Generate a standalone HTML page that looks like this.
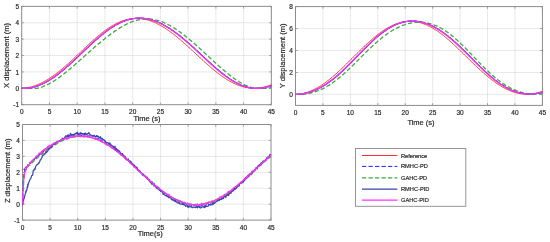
<!DOCTYPE html><html><head><meta charset="utf-8"><style>html,body{margin:0;padding:0;background:#fff;width:550px;height:242px;overflow:hidden}svg text{stroke:#262626;stroke-width:0.18px}</style></head><body><svg width="550" height="242" viewBox="0 0 550 242" style="display:block">
<rect width="550" height="242" fill="#fff"/>
<g>
<path d="M49.44,6.35V104.70M77.18,6.35V104.70M104.92,6.35V104.70M132.66,6.35V104.70M160.39,6.35V104.70M188.13,6.35V104.70M215.87,6.35V104.70M243.61,6.35V104.70M21.70,88.31H271.35M21.70,71.92H271.35M21.70,55.52H271.35M21.70,39.13H271.35M21.70,22.74H271.35" stroke="#c6c6c6" stroke-width="0.8" stroke-dasharray="1 1" fill="none"/>
<rect x="21.70" y="6.35" width="249.65" height="98.35" fill="none" stroke="#8c8c8c" stroke-width="1"/>
<path d="M21.70,104.70v-2.2M21.70,6.35v2.2M49.44,104.70v-2.2M49.44,6.35v2.2M77.18,104.70v-2.2M77.18,6.35v2.2M104.92,104.70v-2.2M104.92,6.35v2.2M132.66,104.70v-2.2M132.66,6.35v2.2M160.39,104.70v-2.2M160.39,6.35v2.2M188.13,104.70v-2.2M188.13,6.35v2.2M215.87,104.70v-2.2M215.87,6.35v2.2M243.61,104.70v-2.2M243.61,6.35v2.2M271.35,104.70v-2.2M271.35,6.35v2.2M21.70,104.70h2.2M271.35,104.70h-2.2M21.70,88.31h2.2M271.35,88.31h-2.2M21.70,71.92h2.2M271.35,71.92h-2.2M21.70,55.52h2.2M271.35,55.52h-2.2M21.70,39.13h2.2M271.35,39.13h-2.2M21.70,22.74h2.2M271.35,22.74h-2.2M21.70,6.35h2.2M271.35,6.35h-2.2" stroke="#8c8c8c" stroke-width="0.8" fill="none"/>
<g fill="none" stroke-linejoin="round">
<path d="M21.7,88.3L22.4,88.3L23.1,88.2L23.8,88.2L24.5,88.1L25.2,88.0L25.9,87.9L26.6,87.8L27.3,87.7L28.0,87.6L28.7,87.4L29.3,87.3L30.0,87.1L30.7,87.0L31.4,86.8L32.1,86.6L32.8,86.4L33.5,86.2L34.2,85.9L34.9,85.7L35.6,85.4L36.3,85.2L37.0,84.9L37.7,84.6L38.4,84.3L39.1,84.0L39.8,83.7L40.5,83.4L41.2,83.1L41.9,82.7L42.6,82.4L43.3,82.0L44.0,81.6L44.6,81.3L45.3,80.9L46.0,80.5L46.7,80.1L47.4,79.6L48.1,79.2L48.8,78.8L49.5,78.3L50.2,77.9L50.9,77.4L51.6,76.9L52.3,76.5L53.0,76.0L53.7,75.5L54.4,75.0L55.1,74.5L55.8,73.9L56.5,73.4L57.2,72.9L57.9,72.3L58.6,71.8L59.3,71.2L59.9,70.7L60.6,70.1L61.3,69.5L62.0,69.0L62.7,68.4L63.4,67.8L64.1,67.2L64.8,66.6L65.5,66.0L66.2,65.4L66.9,64.8L67.6,64.1L68.3,63.5L69.0,62.9L69.7,62.3L70.4,61.6L71.1,61.0L71.8,60.3L72.5,59.7L73.2,59.1L73.9,58.4L74.6,57.8L75.2,57.1L75.9,56.4L76.6,55.8L77.3,55.1L78.0,54.5L78.7,53.8L79.4,53.1L80.1,52.5L80.8,51.8L81.5,51.2L82.2,50.5L82.9,49.8L83.6,49.2L84.3,48.5L85.0,47.9L85.7,47.2L86.4,46.6L87.1,45.9L87.8,45.3L88.5,44.6L89.2,44.0L89.8,43.3L90.5,42.7L91.2,42.0L91.9,41.4L92.6,40.8L93.3,40.2L94.0,39.6L94.7,38.9L95.4,38.3L96.1,37.7L96.8,37.1L97.5,36.6L98.2,36.0L98.9,35.4L99.6,34.8L100.3,34.3L101.0,33.7L101.7,33.1L102.4,32.6L103.1,32.1L103.8,31.5L104.5,31.0L105.1,30.5L105.8,30.0L106.5,29.5L107.2,29.0L107.9,28.5L108.6,28.1L109.3,27.6L110.0,27.2L110.7,26.7L111.4,26.3L112.1,25.9L112.8,25.5L113.5,25.1L114.2,24.7L114.9,24.3L115.6,23.9L116.3,23.6L117.0,23.2L117.7,22.9L118.4,22.6L119.1,22.3L119.8,22.0L120.4,21.7L121.1,21.4L121.8,21.2L122.5,20.9L123.2,20.7L123.9,20.4L124.6,20.2L125.3,20.0L126.0,19.8L126.7,19.6L127.4,19.5L128.1,19.3L128.8,19.2L129.5,19.0L130.2,18.9L130.9,18.8L131.6,18.7L132.3,18.6L133.0,18.6L133.7,18.5L134.4,18.5L135.1,18.4L135.7,18.4L136.4,18.4L137.1,18.4L137.8,18.4L138.5,18.5L139.2,18.5L139.9,18.6L140.6,18.6L141.3,18.7L142.0,18.8L142.7,18.9L143.4,19.0L144.1,19.2L144.8,19.3L145.5,19.5L146.2,19.6L146.9,19.8L147.6,20.0L148.3,20.2L149.0,20.4L149.7,20.6L150.3,20.8L151.0,21.1L151.7,21.3L152.4,21.6L153.1,21.9L153.8,22.2L154.5,22.5L155.2,22.8L155.9,23.1L156.6,23.4L157.3,23.8L158.0,24.1L158.7,24.5L159.4,24.9L160.1,25.2L160.8,25.6L161.5,26.0L162.2,26.4L162.9,26.8L163.6,27.3L164.3,27.7L165.0,28.1L165.6,28.6L166.3,29.1L167.0,29.5L167.7,30.0L168.4,30.5L169.1,31.0L169.8,31.5L170.5,32.0L171.2,32.5L171.9,33.0L172.6,33.5L173.3,34.1L174.0,34.6L174.7,35.2L175.4,35.7L176.1,36.3L176.8,36.8L177.5,37.4L178.2,38.0L178.9,38.6L179.6,39.1L180.3,39.7L180.9,40.3L181.6,40.9L182.3,41.5L183.0,42.2L183.7,42.8L184.4,43.4L185.1,44.0L185.8,44.6L186.5,45.2L187.2,45.9L187.9,46.5L188.6,47.1L189.3,47.8L190.0,48.4L190.7,49.1L191.4,49.7L192.1,50.3L192.8,51.0L193.5,51.6L194.2,52.3L194.9,52.9L195.6,53.6L196.2,54.2L196.9,54.9L197.6,55.5L198.3,56.2L199.0,56.8L199.7,57.4L200.4,58.1L201.1,58.7L201.8,59.4L202.5,60.0L203.2,60.6L203.9,61.3L204.6,61.9L205.3,62.5L206.0,63.2L206.7,63.8L207.4,64.4L208.1,65.0L208.8,65.6L209.5,66.2L210.2,66.8L210.8,67.4L211.5,68.0L212.2,68.6L212.9,69.2L213.6,69.8L214.3,70.3L215.0,70.9L215.7,71.5L216.4,72.0L217.1,72.6L217.8,73.1L218.5,73.6L219.2,74.2L219.9,74.7L220.6,75.2L221.3,75.7L222.0,76.2L222.7,76.7L223.4,77.1L224.1,77.6L224.8,78.1L225.5,78.5L226.1,79.0L226.8,79.4L227.5,79.8L228.2,80.3L228.9,80.7L229.6,81.1L230.3,81.5L231.0,81.8L231.7,82.2L232.4,82.6L233.1,82.9L233.8,83.3L234.5,83.6L235.2,83.9L235.9,84.2L236.6,84.5L237.3,84.8L238.0,85.1L238.7,85.3L239.4,85.6L240.1,85.8L240.8,86.1L241.4,86.3L242.1,86.5L242.8,86.7L243.5,86.9L244.2,87.0L244.9,87.2L245.6,87.4L246.3,87.5L247.0,87.6L247.7,87.7L248.4,87.8L249.1,87.9L249.8,88.0L250.5,88.1L251.2,88.1L251.9,88.2L252.6,88.2L253.3,88.2L254.0,88.3L254.7,88.3L255.4,88.2L256.1,88.2L256.7,88.2L257.4,88.1L258.1,88.1L258.8,88.0L259.5,87.9L260.2,87.8L260.9,87.7L261.6,87.6L262.3,87.5L263.0,87.3L263.7,87.2L264.4,87.0L265.1,86.8L265.8,86.6L266.5,86.4L267.2,86.2L267.9,86.0L268.6,85.8L269.3,85.5L270.0,85.3L270.7,85.0L271.4,84.7" stroke="#ff2020" stroke-width="0.95"/>
<path d="M21.7,88.3L22.4,88.3L23.1,88.3L23.8,88.3L24.5,88.3L25.2,88.3L25.9,88.3L26.6,88.3L27.3,88.2L28.0,88.2L28.7,88.1L29.3,88.0L30.0,87.9L30.7,87.8L31.4,87.7L32.1,87.5L32.8,87.4L33.5,87.2L34.2,87.0L34.9,86.8L35.6,86.6L36.3,86.4L37.0,86.2L37.7,86.0L38.4,85.7L39.1,85.5L39.8,85.2L40.5,84.9L41.2,84.6L41.9,84.3L42.6,84.0L43.3,83.6L44.0,83.3L44.6,83.0L45.3,82.6L46.0,82.2L46.7,81.8L47.4,81.4L48.1,81.0L48.8,80.6L49.5,80.2L50.2,79.8L50.9,79.3L51.6,78.9L52.3,78.4L53.0,78.0L53.7,77.5L54.4,77.0L55.1,76.5L55.8,76.0L56.5,75.5L57.2,75.0L57.9,74.5L58.6,73.9L59.3,73.4L59.9,72.8L60.6,72.3L61.3,71.7L62.0,71.2L62.7,70.6L63.4,70.0L64.1,69.4L64.8,68.8L65.5,68.3L66.2,67.7L66.9,67.0L67.6,66.4L68.3,65.8L69.0,65.2L69.7,64.6L70.4,64.0L71.1,63.3L71.8,62.7L72.5,62.0L73.2,61.4L73.9,60.8L74.6,60.1L75.2,59.5L75.9,58.8L76.6,58.2L77.3,57.5L78.0,56.8L78.7,56.2L79.4,55.5L80.1,54.9L80.8,54.2L81.5,53.5L82.2,52.9L82.9,52.2L83.6,51.6L84.3,50.9L85.0,50.2L85.7,49.6L86.4,48.9L87.1,48.3L87.8,47.6L88.5,46.9L89.2,46.3L89.8,45.6L90.5,45.0L91.2,44.4L91.9,43.7L92.6,43.1L93.3,42.4L94.0,41.8L94.7,41.2L95.4,40.6L96.1,39.9L96.8,39.3L97.5,38.7L98.2,38.1L98.9,37.5L99.6,36.9L100.3,36.3L101.0,35.8L101.7,35.2L102.4,34.6L103.1,34.1L103.8,33.5L104.5,33.0L105.1,32.4L105.8,31.9L106.5,31.4L107.2,30.8L107.9,30.3L108.6,29.8L109.3,29.3L110.0,28.9L110.7,28.4L111.4,27.9L112.1,27.5L112.8,27.0L113.5,26.6L114.2,26.2L114.9,25.7L115.6,25.3L116.3,24.9L117.0,24.5L117.7,24.2L118.4,23.8L119.1,23.4L119.8,23.1L120.4,22.8L121.1,22.4L121.8,22.1L122.5,21.8L123.2,21.5L123.9,21.3L124.6,21.0L125.3,20.7L126.0,20.5L126.7,20.3L127.4,20.0L128.1,19.8L128.8,19.6L129.5,19.5L130.2,19.3L130.9,19.1L131.6,19.0L132.3,18.8L133.0,18.7L133.7,18.6L134.4,18.5L135.1,18.4L135.7,18.3L136.4,18.3L137.1,18.2L137.8,18.2L138.5,18.2L139.2,18.1L139.9,18.1L140.6,18.1L141.3,18.2L142.0,18.2L142.7,18.2L143.4,18.3L144.1,18.4L144.8,18.5L145.5,18.5L146.2,18.6L146.9,18.8L147.6,18.9L148.3,19.0L149.0,19.2L149.7,19.3L150.3,19.5L151.0,19.7L151.7,19.9L152.4,20.1L153.1,20.3L153.8,20.5L154.5,20.8L155.2,21.0L155.9,21.3L156.6,21.5L157.3,21.8L158.0,22.1L158.7,22.4L159.4,22.7L160.1,23.0L160.8,23.4L161.5,23.7L162.2,24.1L162.9,24.4L163.6,24.8L164.3,25.2L165.0,25.5L165.6,25.9L166.3,26.3L167.0,26.8L167.7,27.2L168.4,27.6L169.1,28.0L169.8,28.5L170.5,28.9L171.2,29.4L171.9,29.9L172.6,30.3L173.3,30.8L174.0,31.3L174.7,31.8L175.4,32.3L176.1,32.8L176.8,33.3L177.5,33.9L178.2,34.4L178.9,34.9L179.6,35.5L180.3,36.0L180.9,36.6L181.6,37.1L182.3,37.7L183.0,38.3L183.7,38.8L184.4,39.4L185.1,40.0L185.8,40.6L186.5,41.2L187.2,41.8L187.9,42.4L188.6,43.0L189.3,43.6L190.0,44.2L190.7,44.9L191.4,45.5L192.1,46.1L192.8,46.7L193.5,47.4L194.2,48.0L194.9,48.6L195.6,49.3L196.2,49.9L196.9,50.6L197.6,51.2L198.3,51.9L199.0,52.5L199.7,53.1L200.4,53.8L201.1,54.4L201.8,55.1L202.5,55.7L203.2,56.4L203.9,57.0L204.6,57.7L205.3,58.3L206.0,59.0L206.7,59.6L207.4,60.3L208.1,60.9L208.8,61.5L209.5,62.2L210.2,62.8L210.8,63.4L211.5,64.1L212.2,64.7L212.9,65.3L213.6,65.9L214.3,66.6L215.0,67.2L215.7,67.8L216.4,68.4L217.1,69.0L217.8,69.6L218.5,70.2L219.2,70.7L219.9,71.3L220.6,71.9L221.3,72.5L222.0,73.0L222.7,73.6L223.4,74.1L224.1,74.6L224.8,75.2L225.5,75.7L226.1,76.2L226.8,76.7L227.5,77.2L228.2,77.7L228.9,78.2L229.6,78.6L230.3,79.1L231.0,79.6L231.7,80.0L232.4,80.4L233.1,80.9L233.8,81.3L234.5,81.7L235.2,82.1L235.9,82.5L236.6,82.8L237.3,83.2L238.0,83.5L238.7,83.9L239.4,84.2L240.1,84.5L240.8,84.8L241.4,85.1L242.1,85.4L242.8,85.7L243.5,85.9L244.2,86.2L244.9,86.4L245.6,86.6L246.3,86.8L247.0,87.0L247.7,87.2L248.4,87.4L249.1,87.5L249.8,87.7L250.5,87.8L251.2,87.9L251.9,88.0L252.6,88.1L253.3,88.2L254.0,88.3L254.7,88.3L255.4,88.3L256.1,88.3L256.7,88.3L257.4,88.3L258.1,88.3L258.8,88.3L259.5,88.3L260.2,88.3L260.9,88.2L261.6,88.1L262.3,88.0L263.0,87.9L263.7,87.8L264.4,87.7L265.1,87.5L265.8,87.4L266.5,87.2L267.2,87.0L267.9,86.8L268.6,86.6L269.3,86.4L270.0,86.2L270.7,86.0L271.4,85.7" stroke="#2020ff" stroke-width="1" stroke-dasharray="4.3 2.2"/>
<path d="M21.7,88.3L22.4,88.3L23.1,88.3L23.8,88.3L24.5,88.3L25.2,88.3L25.9,88.3L26.6,88.3L27.3,88.3L28.0,88.3L28.7,88.3L29.3,88.3L30.0,88.3L30.7,88.3L31.4,88.3L32.1,88.3L32.8,88.3L33.5,88.3L34.2,88.3L34.9,88.3L35.6,88.3L36.3,88.3L37.0,88.3L37.7,88.2L38.4,88.1L39.1,87.9L39.8,87.7L40.5,87.5L41.2,87.3L41.9,87.0L42.6,86.8L43.3,86.5L44.0,86.2L44.6,85.9L45.3,85.6L46.0,85.3L46.7,85.0L47.4,84.7L48.1,84.3L48.8,84.0L49.5,83.6L50.2,83.2L50.9,82.8L51.6,82.4L52.3,82.0L53.0,81.6L53.7,81.1L54.4,80.7L55.1,80.3L55.8,79.8L56.5,79.3L57.2,78.9L57.9,78.4L58.6,77.9L59.3,77.4L59.9,76.9L60.6,76.4L61.3,75.8L62.0,75.3L62.7,74.8L63.4,74.2L64.1,73.7L64.8,73.1L65.5,72.6L66.2,72.0L66.9,71.5L67.6,70.9L68.3,70.3L69.0,69.7L69.7,69.1L70.4,68.6L71.1,68.0L71.8,67.4L72.5,66.8L73.2,66.2L73.9,65.6L74.6,65.0L75.2,64.4L75.9,63.7L76.6,63.1L77.3,62.5L78.0,61.9L78.7,61.3L79.4,60.7L80.1,60.1L80.8,59.4L81.5,58.8L82.2,58.2L82.9,57.6L83.6,57.0L84.3,56.3L85.0,55.7L85.7,55.1L86.4,54.5L87.1,53.8L87.8,53.2L88.5,52.6L89.2,52.0L89.8,51.4L90.5,50.8L91.2,50.2L91.9,49.5L92.6,48.9L93.3,48.3L94.0,47.7L94.7,47.1L95.4,46.5L96.1,45.9L96.8,45.3L97.5,44.7L98.2,44.1L98.9,43.5L99.6,42.9L100.3,42.4L101.0,41.8L101.7,41.2L102.4,40.6L103.1,40.1L103.8,39.5L104.5,38.9L105.1,38.4L105.8,37.8L106.5,37.3L107.2,36.7L107.9,36.2L108.6,35.7L109.3,35.1L110.0,34.6L110.7,34.1L111.4,33.6L112.1,33.1L112.8,32.6L113.5,32.1L114.2,31.6L114.9,31.1L115.6,30.6L116.3,30.2L117.0,29.7L117.7,29.2L118.4,28.8L119.1,28.4L119.8,27.9L120.4,27.5L121.1,27.1L121.8,26.7L122.5,26.3L123.2,25.9L123.9,25.5L124.6,25.1L125.3,24.8L126.0,24.4L126.7,24.1L127.4,23.7L128.1,23.4L128.8,23.1L129.5,22.8L130.2,22.5L130.9,22.2L131.6,22.0L132.3,21.7L133.0,21.4L133.7,21.2L134.4,21.0L135.1,20.8L135.7,20.6L136.4,20.4L137.1,20.2L137.8,20.0L138.5,19.9L139.2,19.7L139.9,19.6L140.6,19.5L141.3,19.4L142.0,19.3L142.7,19.2L143.4,19.1L144.1,19.0L144.8,19.0L145.5,19.0L146.2,18.9L146.9,18.9L147.6,18.9L148.3,19.0L149.0,19.0L149.7,19.0L150.3,19.1L151.0,19.2L151.7,19.2L152.4,19.3L153.1,19.4L153.8,19.6L154.5,19.7L155.2,19.8L155.9,20.0L156.6,20.2L157.3,20.3L158.0,20.5L158.7,20.7L159.4,21.0L160.1,21.2L160.8,21.4L161.5,21.7L162.2,21.9L162.9,22.2L163.6,22.5L164.3,22.8L165.0,23.1L165.6,23.4L166.3,23.7L167.0,24.1L167.7,24.4L168.4,24.8L169.1,25.2L169.8,25.5L170.5,25.9L171.2,26.3L171.9,26.7L172.6,27.1L173.3,27.6L174.0,28.0L174.7,28.4L175.4,28.9L176.1,29.3L176.8,29.8L177.5,30.3L178.2,30.8L178.9,31.2L179.6,31.7L180.3,32.2L180.9,32.7L181.6,33.3L182.3,33.8L183.0,34.3L183.7,34.8L184.4,35.4L185.1,35.9L185.8,36.5L186.5,37.0L187.2,37.6L187.9,38.2L188.6,38.7L189.3,39.3L190.0,39.9L190.7,40.5L191.4,41.1L192.1,41.7L192.8,42.3L193.5,42.9L194.2,43.5L194.9,44.1L195.6,44.7L196.2,45.3L196.9,45.9L197.6,46.5L198.3,47.2L199.0,47.8L199.7,48.4L200.4,49.1L201.1,49.7L201.8,50.3L202.5,51.0L203.2,51.6L203.9,52.2L204.6,52.9L205.3,53.5L206.0,54.2L206.7,54.8L207.4,55.4L208.1,56.1L208.8,56.7L209.5,57.4L210.2,58.0L210.8,58.7L211.5,59.3L212.2,60.0L212.9,60.6L213.6,61.2L214.3,61.9L215.0,62.5L215.7,63.1L216.4,63.8L217.1,64.4L217.8,65.0L218.5,65.7L219.2,66.3L219.9,66.9L220.6,67.5L221.3,68.1L222.0,68.7L222.7,69.3L223.4,69.9L224.1,70.5L224.8,71.1L225.5,71.7L226.1,72.3L226.8,72.9L227.5,73.4L228.2,74.0L228.9,74.6L229.6,75.1L230.3,75.6L231.0,76.2L231.7,76.7L232.4,77.2L233.1,77.7L233.8,78.2L234.5,78.7L235.2,79.2L235.9,79.7L236.6,80.2L237.3,80.6L238.0,81.1L238.7,81.5L239.4,82.0L240.1,82.4L240.8,82.8L241.4,83.2L242.1,83.6L242.8,83.9L243.5,84.3L244.2,84.6L244.9,85.0L245.6,85.3L246.3,85.6L247.0,85.9L247.7,86.2L248.4,86.5L249.1,86.7L249.8,87.0L250.5,87.2L251.2,87.4L251.9,87.7L252.6,87.8L253.3,88.0L254.0,88.2L254.7,88.3L255.4,88.3L256.1,88.3L256.7,88.3L257.4,88.3L258.1,88.3L258.8,88.3L259.5,88.3L260.2,88.3L260.9,88.3L261.6,88.3L262.3,88.3L263.0,88.3L263.7,88.3L264.4,88.3L265.1,88.3L265.8,88.3L266.5,88.3L267.2,88.3L267.9,88.3L268.6,88.2L269.3,88.1L270.0,87.9L270.7,87.7L271.4,87.5" stroke="#42a642" stroke-width="1.3" stroke-dasharray="4.3 2.2"/>
<path d="M21.7,88.3L22.4,88.3L23.1,88.3L23.8,88.3L24.5,88.3L25.2,88.3L25.9,88.3L26.6,88.3L27.3,88.2L28.0,88.2L28.7,88.1L29.3,88.0L30.0,87.9L30.7,87.8L31.4,87.6L32.1,87.5L32.8,87.3L33.5,87.2L34.2,87.0L34.9,86.8L35.6,86.6L36.3,86.4L37.0,86.1L37.7,85.9L38.4,85.7L39.1,85.4L39.8,85.1L40.5,84.8L41.2,84.5L41.9,84.2L42.6,83.9L43.3,83.6L44.0,83.2L44.6,82.9L45.3,82.5L46.0,82.1L46.7,81.7L47.4,81.4L48.1,80.9L48.8,80.5L49.5,80.1L50.2,79.7L50.9,79.2L51.6,78.8L52.3,78.3L53.0,77.9L53.7,77.4L54.4,76.9L55.1,76.4L55.8,75.9L56.5,75.4L57.2,74.9L57.9,74.3L58.6,73.8L59.3,73.3L59.9,72.7L60.6,72.2L61.3,71.6L62.0,71.0L62.7,70.5L63.4,69.9L64.1,69.3L64.8,68.7L65.5,68.1L66.2,67.5L66.9,66.9L67.6,66.3L68.3,65.7L69.0,65.1L69.7,64.4L70.4,63.8L71.1,63.2L71.8,62.5L72.5,61.9L73.2,61.3L73.9,60.6L74.6,60.0L75.2,59.3L75.9,58.7L76.6,58.0L77.3,57.3L78.0,56.7L78.7,56.0L79.4,55.4L80.1,54.7L80.8,54.0L81.5,53.4L82.2,52.7L82.9,52.1L83.6,51.4L84.3,50.7L85.0,50.1L85.7,49.4L86.4,48.8L87.1,48.1L87.8,47.4L88.5,46.8L89.2,46.1L89.8,45.5L90.5,44.8L91.2,44.2L91.9,43.6L92.6,42.9L93.3,42.3L94.0,41.7L94.7,41.0L95.4,40.4L96.1,39.8L96.8,39.2L97.5,38.6L98.2,38.0L98.9,37.4L99.6,36.8L100.3,36.2L101.0,35.6L101.7,35.1L102.4,34.5L103.1,33.9L103.8,33.4L104.5,32.8L105.1,32.3L105.8,31.8L106.5,31.2L107.2,30.7L107.9,30.2L108.6,29.7L109.3,29.2L110.0,28.7L110.7,28.3L111.4,27.8L112.1,27.4L112.8,26.9L113.5,26.5L114.2,26.1L114.9,25.6L115.6,25.2L116.3,24.8L117.0,24.5L117.7,24.1L118.4,23.7L119.1,23.4L119.8,23.0L120.4,22.7L121.1,22.4L121.8,22.1L122.5,21.8L123.2,21.5L123.9,21.2L124.6,20.9L125.3,20.7L126.0,20.4L126.7,20.2L127.4,20.0L128.1,19.8L128.8,19.6L129.5,19.4L130.2,19.2L130.9,19.1L131.6,18.9L132.3,18.8L133.0,18.7L133.7,18.6L134.4,18.5L135.1,18.4L135.7,18.3L136.4,18.3L137.1,18.2L137.8,18.2L138.5,18.2L139.2,18.1L139.9,18.1L140.6,18.2L141.3,18.2L142.0,18.2L142.7,18.3L143.4,18.3L144.1,18.4L144.8,18.5L145.5,18.6L146.2,18.7L146.9,18.8L147.6,18.9L148.3,19.1L149.0,19.2L149.7,19.4L150.3,19.6L151.0,19.7L151.7,19.9L152.4,20.1L153.1,20.4L153.8,20.6L154.5,20.8L155.2,21.1L155.9,21.3L156.6,21.6L157.3,21.9L158.0,22.2L158.7,22.5L159.4,22.8L160.1,23.1L160.8,23.5L161.5,23.8L162.2,24.1L162.9,24.5L163.6,24.9L164.3,25.3L165.0,25.6L165.6,26.0L166.3,26.4L167.0,26.9L167.7,27.3L168.4,27.7L169.1,28.1L169.8,28.6L170.5,29.0L171.2,29.5L171.9,30.0L172.6,30.4L173.3,30.9L174.0,31.4L174.7,31.9L175.4,32.4L176.1,32.9L176.8,33.5L177.5,34.0L178.2,34.5L178.9,35.1L179.6,35.6L180.3,36.1L180.9,36.7L181.6,37.3L182.3,37.8L183.0,38.4L183.7,39.0L184.4,39.6L185.1,40.2L185.8,40.7L186.5,41.3L187.2,41.9L187.9,42.6L188.6,43.2L189.3,43.8L190.0,44.4L190.7,45.0L191.4,45.6L192.1,46.3L192.8,46.9L193.5,47.5L194.2,48.2L194.9,48.8L195.6,49.4L196.2,50.1L196.9,50.7L197.6,51.4L198.3,52.0L199.0,52.7L199.7,53.3L200.4,53.9L201.1,54.6L201.8,55.2L202.5,55.9L203.2,56.5L203.9,57.2L204.6,57.8L205.3,58.5L206.0,59.1L206.7,59.8L207.4,60.4L208.1,61.1L208.8,61.7L209.5,62.3L210.2,63.0L210.8,63.6L211.5,64.2L212.2,64.9L212.9,65.5L213.6,66.1L214.3,66.7L215.0,67.3L215.7,67.9L216.4,68.5L217.1,69.1L217.8,69.7L218.5,70.3L219.2,70.9L219.9,71.5L220.6,72.0L221.3,72.6L222.0,73.1L222.7,73.7L223.4,74.2L224.1,74.8L224.8,75.3L225.5,75.8L226.1,76.3L226.8,76.8L227.5,77.3L228.2,77.8L228.9,78.3L229.6,78.8L230.3,79.2L231.0,79.7L231.7,80.1L232.4,80.5L233.1,81.0L233.8,81.4L234.5,81.8L235.2,82.2L235.9,82.5L236.6,82.9L237.3,83.3L238.0,83.6L238.7,84.0L239.4,84.3L240.1,84.6L240.8,84.9L241.4,85.2L242.1,85.5L242.8,85.7L243.5,86.0L244.2,86.2L244.9,86.4L245.6,86.7L246.3,86.9L247.0,87.1L247.7,87.2L248.4,87.4L249.1,87.6L249.8,87.7L250.5,87.8L251.2,87.9L251.9,88.0L252.6,88.1L253.3,88.2L254.0,88.3L254.7,88.3L255.4,88.3L256.1,88.3L256.7,88.3L257.4,88.3L258.1,88.3L258.8,88.3L259.5,88.3L260.2,88.2L260.9,88.2L261.6,88.1L262.3,88.0L263.0,87.9L263.7,87.8L264.4,87.6L265.1,87.5L265.8,87.3L266.5,87.2L267.2,87.0L267.9,86.8L268.6,86.6L269.3,86.4L270.0,86.1L270.7,85.9L271.4,85.7" stroke="#3646aa" stroke-width="1.2"/>
<path d="M21.7,88.3L22.4,88.3L23.1,88.3L23.8,88.3L24.5,88.3L25.2,88.3L25.9,88.3L26.6,88.3L27.3,88.2L28.0,88.1L28.7,88.0L29.3,87.9L30.0,87.8L30.7,87.7L31.4,87.6L32.1,87.4L32.8,87.2L33.5,87.1L34.2,86.9L34.9,86.7L35.6,86.5L36.3,86.2L37.0,86.0L37.7,85.8L38.4,85.5L39.1,85.2L39.8,85.0L40.5,84.7L41.2,84.4L41.9,84.0L42.6,83.7L43.3,83.4L44.0,83.0L44.6,82.7L45.3,82.3L46.0,81.9L46.7,81.5L47.4,81.1L48.1,80.7L48.8,80.3L49.5,79.9L50.2,79.4L50.9,79.0L51.6,78.5L52.3,78.1L53.0,77.6L53.7,77.1L54.4,76.6L55.1,76.1L55.8,75.6L56.5,75.1L57.2,74.6L57.9,74.0L58.6,73.5L59.3,73.0L59.9,72.4L60.6,71.8L61.3,71.3L62.0,70.7L62.7,70.1L63.4,69.6L64.1,69.0L64.8,68.4L65.5,67.8L66.2,67.2L66.9,66.6L67.6,65.9L68.3,65.3L69.0,64.7L69.7,64.1L70.4,63.4L71.1,62.8L71.8,62.2L72.5,61.5L73.2,60.9L73.9,60.2L74.6,59.6L75.2,58.9L75.9,58.3L76.6,57.6L77.3,57.0L78.0,56.3L78.7,55.7L79.4,55.0L80.1,54.3L80.8,53.7L81.5,53.0L82.2,52.4L82.9,51.7L83.6,51.0L84.3,50.4L85.0,49.7L85.7,49.0L86.4,48.4L87.1,47.7L87.8,47.1L88.5,46.4L89.2,45.8L89.8,45.1L90.5,44.5L91.2,43.8L91.9,43.2L92.6,42.6L93.3,41.9L94.0,41.3L94.7,40.7L95.4,40.1L96.1,39.5L96.8,38.8L97.5,38.2L98.2,37.6L98.9,37.0L99.6,36.5L100.3,35.9L101.0,35.3L101.7,34.7L102.4,34.2L103.1,33.6L103.8,33.1L104.5,32.5L105.1,32.0L105.8,31.5L106.5,30.9L107.2,30.4L107.9,29.9L108.6,29.4L109.3,29.0L110.0,28.5L110.7,28.0L111.4,27.6L112.1,27.1L112.8,26.7L113.5,26.2L114.2,25.8L114.9,25.4L115.6,25.0L116.3,24.6L117.0,24.2L117.7,23.9L118.4,23.5L119.1,23.2L119.8,22.8L120.4,22.5L121.1,22.2L121.8,21.9L122.5,21.6L123.2,21.3L123.9,21.0L124.6,20.8L125.3,20.5L126.0,20.3L126.7,20.1L127.4,19.9L128.1,19.7L128.8,19.5L129.5,19.3L130.2,19.2L130.9,19.0L131.6,18.9L132.3,18.7L133.0,18.6L133.7,18.5L134.4,18.4L135.1,18.4L135.7,18.3L136.4,18.2L137.1,18.2L137.8,18.2L138.5,18.1L139.2,18.1L139.9,18.1L140.6,18.2L141.3,18.2L142.0,18.2L142.7,18.3L143.4,18.4L144.1,18.4L144.8,18.5L145.5,18.6L146.2,18.7L146.9,18.9L147.6,19.0L148.3,19.1L149.0,19.3L149.7,19.5L150.3,19.7L151.0,19.8L151.7,20.1L152.4,20.3L153.1,20.5L153.8,20.7L154.5,21.0L155.2,21.2L155.9,21.5L156.6,21.8L157.3,22.1L158.0,22.4L158.7,22.7L159.4,23.0L160.1,23.3L160.8,23.6L161.5,24.0L162.2,24.3L162.9,24.7L163.6,25.1L164.3,25.5L165.0,25.9L165.6,26.3L166.3,26.7L167.0,27.1L167.7,27.5L168.4,27.9L169.1,28.4L169.8,28.8L170.5,29.3L171.2,29.8L171.9,30.2L172.6,30.7L173.3,31.2L174.0,31.7L174.7,32.2L175.4,32.7L176.1,33.2L176.8,33.8L177.5,34.3L178.2,34.8L178.9,35.4L179.6,35.9L180.3,36.5L180.9,37.0L181.6,37.6L182.3,38.2L183.0,38.7L183.7,39.3L184.4,39.9L185.1,40.5L185.8,41.1L186.5,41.7L187.2,42.3L187.9,42.9L188.6,43.5L189.3,44.1L190.0,44.7L190.7,45.4L191.4,46.0L192.1,46.6L192.8,47.2L193.5,47.9L194.2,48.5L194.9,49.1L195.6,49.8L196.2,50.4L196.9,51.1L197.6,51.7L198.3,52.4L199.0,53.0L199.7,53.7L200.4,54.3L201.1,55.0L201.8,55.6L202.5,56.3L203.2,56.9L203.9,57.6L204.6,58.2L205.3,58.8L206.0,59.5L206.7,60.1L207.4,60.8L208.1,61.4L208.8,62.1L209.5,62.7L210.2,63.3L210.8,64.0L211.5,64.6L212.2,65.2L212.9,65.8L213.6,66.4L214.3,67.1L215.0,67.7L215.7,68.3L216.4,68.9L217.1,69.5L217.8,70.0L218.5,70.6L219.2,71.2L219.9,71.8L220.6,72.3L221.3,72.9L222.0,73.4L222.7,74.0L223.4,74.5L224.1,75.1L224.8,75.6L225.5,76.1L226.1,76.6L226.8,77.1L227.5,77.6L228.2,78.1L228.9,78.5L229.6,79.0L230.3,79.5L231.0,79.9L231.7,80.3L232.4,80.8L233.1,81.2L233.8,81.6L234.5,82.0L235.2,82.4L235.9,82.7L236.6,83.1L237.3,83.5L238.0,83.8L238.7,84.1L239.4,84.5L240.1,84.8L240.8,85.1L241.4,85.3L242.1,85.6L242.8,85.9L243.5,86.1L244.2,86.3L244.9,86.6L245.6,86.8L246.3,87.0L247.0,87.2L247.7,87.3L248.4,87.5L249.1,87.6L249.8,87.8L250.5,87.9L251.2,88.0L251.9,88.1L252.6,88.2L253.3,88.2L254.0,88.3L254.7,88.3L255.4,88.3L256.1,88.3L256.7,88.3L257.4,88.3L258.1,88.3L258.8,88.3L259.5,88.3L260.2,88.2L260.9,88.1L261.6,88.0L262.3,87.9L263.0,87.8L263.7,87.7L264.4,87.6L265.1,87.4L265.8,87.3L266.5,87.1L267.2,86.9L267.9,86.7L268.6,86.5L269.3,86.3L270.0,86.0L270.7,85.8L271.4,85.5" stroke="#ff30ff" stroke-width="1.2"/>
</g>
<g font-family="Liberation Sans, Arial, sans-serif" font-size="6.5" fill="#262626" text-anchor="middle">
<text x="21.70" y="114.10">0</text>
<text x="49.44" y="114.10">5</text>
<text x="77.18" y="114.10">10</text>
<text x="104.92" y="114.10">15</text>
<text x="132.66" y="114.10">20</text>
<text x="160.39" y="114.10">25</text>
<text x="188.13" y="114.10">30</text>
<text x="215.87" y="114.10">35</text>
<text x="243.61" y="114.10">40</text>
<text x="271.35" y="114.10">45</text>
</g><g font-family="Liberation Sans, Arial, sans-serif" font-size="6.5" fill="#262626" text-anchor="end">
<text x="19.10" y="107.30">-1</text>
<text x="19.10" y="90.91">0</text>
<text x="19.10" y="74.52">1</text>
<text x="19.10" y="58.12">2</text>
<text x="19.10" y="41.73">3</text>
<text x="19.10" y="25.34">4</text>
<text x="19.10" y="8.95">5</text>
</g>
<text x="147.00" y="120.60" text-anchor="middle" font-size="7.5" fill="#262626" font-family="Liberation Sans, Arial, sans-serif">Time (s)</text>
<text transform="translate(9.00,55.45) rotate(-90)" text-anchor="middle" font-size="7.55" fill="#262626" font-family="Liberation Sans, Arial, sans-serif">X displacement (m)</text>
</g>
<g>
<path d="M322.93,6.60V105.40M350.37,6.60V105.40M377.80,6.60V105.40M405.23,6.60V105.40M432.67,6.60V105.40M460.10,6.60V105.40M487.53,6.60V105.40M514.97,6.60V105.40M295.50,94.42H542.40M295.50,72.47H542.40M295.50,50.51H542.40M295.50,28.56H542.40" stroke="#c6c6c6" stroke-width="0.8" stroke-dasharray="1 1" fill="none"/>
<rect x="295.50" y="6.60" width="246.90" height="98.80" fill="none" stroke="#8c8c8c" stroke-width="1"/>
<path d="M295.50,105.40v-2.2M295.50,6.60v2.2M322.93,105.40v-2.2M322.93,6.60v2.2M350.37,105.40v-2.2M350.37,6.60v2.2M377.80,105.40v-2.2M377.80,6.60v2.2M405.23,105.40v-2.2M405.23,6.60v2.2M432.67,105.40v-2.2M432.67,6.60v2.2M460.10,105.40v-2.2M460.10,6.60v2.2M487.53,105.40v-2.2M487.53,6.60v2.2M514.97,105.40v-2.2M514.97,6.60v2.2M542.40,105.40v-2.2M542.40,6.60v2.2M295.50,94.42h2.2M542.40,94.42h-2.2M295.50,72.47h2.2M542.40,72.47h-2.2M295.50,50.51h2.2M542.40,50.51h-2.2M295.50,28.56h2.2M542.40,28.56h-2.2M295.50,6.60h2.2M542.40,6.60h-2.2" stroke="#8c8c8c" stroke-width="0.8" fill="none"/>
<g fill="none" stroke-linejoin="round">
<path d="M295.5,94.4L296.2,94.4L296.9,94.3L297.6,94.3L298.3,94.2L298.9,94.1L299.6,94.1L300.3,94.0L301.0,93.8L301.7,93.7L302.4,93.6L303.1,93.4L303.8,93.3L304.4,93.1L305.1,92.9L305.8,92.7L306.5,92.5L307.2,92.3L307.9,92.1L308.6,91.8L309.3,91.6L309.9,91.3L310.6,91.0L311.3,90.7L312.0,90.5L312.7,90.1L313.4,89.8L314.1,89.5L314.8,89.1L315.4,88.8L316.1,88.4L316.8,88.1L317.5,87.7L318.2,87.3L318.9,86.9L319.6,86.4L320.3,86.0L320.9,85.6L321.6,85.1L322.3,84.7L323.0,84.2L323.7,83.7L324.4,83.3L325.1,82.8L325.8,82.3L326.4,81.8L327.1,81.2L327.8,80.7L328.5,80.2L329.2,79.6L329.9,79.1L330.6,78.5L331.3,77.9L332.0,77.4L332.6,76.8L333.3,76.2L334.0,75.6L334.7,75.0L335.4,74.4L336.1,73.8L336.8,73.2L337.5,72.5L338.1,71.9L338.8,71.3L339.5,70.6L340.2,70.0L340.9,69.3L341.6,68.7L342.3,68.0L343.0,67.4L343.6,66.7L344.3,66.0L345.0,65.4L345.7,64.7L346.4,64.0L347.1,63.3L347.8,62.6L348.5,62.0L349.1,61.3L349.8,60.6L350.5,59.9L351.2,59.2L351.9,58.5L352.6,57.8L353.3,57.1L354.0,56.5L354.6,55.8L355.3,55.1L356.0,54.4L356.7,53.7L357.4,53.0L358.1,52.4L358.8,51.7L359.5,51.0L360.1,50.3L360.8,49.7L361.5,49.0L362.2,48.3L362.9,47.7L363.6,47.0L364.3,46.3L365.0,45.7L365.6,45.0L366.3,44.4L367.0,43.8L367.7,43.1L368.4,42.5L369.1,41.9L369.8,41.3L370.5,40.7L371.2,40.1L371.8,39.5L372.5,38.9L373.2,38.3L373.9,37.7L374.6,37.1L375.3,36.6L376.0,36.0L376.7,35.5L377.3,34.9L378.0,34.4L378.7,33.9L379.4,33.4L380.1,32.9L380.8,32.4L381.5,31.9L382.2,31.4L382.8,30.9L383.5,30.5L384.2,30.0L384.9,29.6L385.6,29.2L386.3,28.7L387.0,28.3L387.7,27.9L388.3,27.5L389.0,27.2L389.7,26.8L390.4,26.4L391.1,26.1L391.8,25.8L392.5,25.4L393.2,25.1L393.8,24.8L394.5,24.5L395.2,24.3L395.9,24.0L396.6,23.7L397.3,23.5L398.0,23.3L398.7,23.1L399.3,22.9L400.0,22.7L400.7,22.5L401.4,22.3L402.1,22.2L402.8,22.0L403.5,21.9L404.2,21.8L404.9,21.7L405.5,21.6L406.2,21.5L406.9,21.4L407.6,21.4L408.3,21.3L409.0,21.3L409.7,21.3L410.4,21.3L411.0,21.3L411.7,21.3L412.4,21.4L413.1,21.4L413.8,21.5L414.5,21.6L415.2,21.7L415.9,21.8L416.5,21.9L417.2,22.0L417.9,22.1L418.6,22.3L419.3,22.5L420.0,22.6L420.7,22.8L421.4,23.0L422.0,23.3L422.7,23.5L423.4,23.7L424.1,24.0L424.8,24.3L425.5,24.5L426.2,24.8L426.9,25.1L427.5,25.4L428.2,25.8L428.9,26.1L429.6,26.4L430.3,26.8L431.0,27.2L431.7,27.6L432.4,27.9L433.0,28.3L433.7,28.8L434.4,29.2L435.1,29.6L435.8,30.1L436.5,30.5L437.2,31.0L437.9,31.4L438.6,31.9L439.2,32.4L439.9,32.9L440.6,33.4L441.3,33.9L442.0,34.5L442.7,35.0L443.4,35.5L444.1,36.1L444.7,36.7L445.4,37.2L446.1,37.8L446.8,38.4L447.5,39.0L448.2,39.5L448.9,40.1L449.6,40.7L450.2,41.4L450.9,42.0L451.6,42.6L452.3,43.2L453.0,43.8L453.7,44.5L454.4,45.1L455.1,45.8L455.7,46.4L456.4,47.1L457.1,47.7L457.8,48.4L458.5,49.0L459.2,49.7L459.9,50.4L460.6,51.0L461.2,51.7L461.9,52.4L462.6,53.0L463.3,53.7L464.0,54.4L464.7,55.1L465.4,55.7L466.1,56.4L466.7,57.1L467.4,57.8L468.1,58.4L468.8,59.1L469.5,59.8L470.2,60.5L470.9,61.1L471.6,61.8L472.3,62.5L472.9,63.1L473.6,63.8L474.3,64.5L475.0,65.1L475.7,65.8L476.4,66.4L477.1,67.1L477.8,67.7L478.4,68.4L479.1,69.0L479.8,69.6L480.5,70.3L481.2,70.9L481.9,71.5L482.6,72.1L483.3,72.7L483.9,73.3L484.6,73.9L485.3,74.5L486.0,75.1L486.7,75.7L487.4,76.3L488.1,76.8L488.8,77.4L489.4,78.0L490.1,78.5L490.8,79.0L491.5,79.6L492.2,80.1L492.9,80.6L493.6,81.1L494.3,81.6L494.9,82.1L495.6,82.6L496.3,83.1L497.0,83.6L497.7,84.0L498.4,84.5L499.1,84.9L499.8,85.4L500.4,85.8L501.1,86.2L501.8,86.6L502.5,87.0L503.2,87.4L503.9,87.8L504.6,88.1L505.3,88.5L505.9,88.9L506.6,89.2L507.3,89.5L508.0,89.8L508.7,90.2L509.4,90.5L510.1,90.7L510.8,91.0L511.5,91.3L512.1,91.5L512.8,91.8L513.5,92.0L514.2,92.2L514.9,92.4L515.6,92.6L516.3,92.8L517.0,93.0L517.6,93.2L518.3,93.3L519.0,93.5L519.7,93.6L520.4,93.7L521.1,93.8L521.8,93.9L522.5,94.0L523.1,94.1L523.8,94.1L524.5,94.2L525.2,94.2L525.9,94.2L526.6,94.3L527.3,94.3L528.0,94.2L528.6,94.2L529.3,94.2L530.0,94.1L530.7,94.1L531.4,94.0L532.1,93.9L532.8,93.8L533.5,93.7L534.1,93.6L534.8,93.5L535.5,93.3L536.2,93.1L536.9,93.0L537.6,92.8L538.3,92.6L539.0,92.4L539.6,92.2L540.3,92.0L541.0,91.7L541.7,91.5L542.4,91.2" stroke="#ff2020" stroke-width="0.95"/>
<path d="M295.5,94.4L296.2,94.4L296.9,94.4L297.6,94.4L298.3,94.3L298.9,94.3L299.6,94.2L300.3,94.1L301.0,94.1L301.7,94.0L302.4,93.9L303.1,93.8L303.8,93.7L304.4,93.5L305.1,93.4L305.8,93.2L306.5,93.1L307.2,92.9L307.9,92.7L308.6,92.5L309.3,92.3L309.9,92.1L310.6,91.9L311.3,91.7L312.0,91.4L312.7,91.2L313.4,90.9L314.1,90.7L314.8,90.4L315.4,90.1L316.1,89.8L316.8,89.5L317.5,89.2L318.2,88.8L318.9,88.5L319.6,88.1L320.3,87.8L320.9,87.4L321.6,87.0L322.3,86.6L323.0,86.2L323.7,85.8L324.4,85.4L325.1,85.0L325.8,84.5L326.4,84.1L327.1,83.6L327.8,83.2L328.5,82.7L329.2,82.2L329.9,81.7L330.6,81.2L331.3,80.7L332.0,80.2L332.6,79.6L333.3,79.1L334.0,78.6L334.7,78.0L335.4,77.4L336.1,76.9L336.8,76.3L337.5,75.7L338.1,75.1L338.8,74.5L339.5,73.9L340.2,73.3L340.9,72.7L341.6,72.0L342.3,71.4L343.0,70.8L343.6,70.1L344.3,69.5L345.0,68.8L345.7,68.1L346.4,67.5L347.1,66.8L347.8,66.1L348.5,65.4L349.1,64.7L349.8,64.1L350.5,63.4L351.2,62.7L351.9,62.0L352.6,61.3L353.3,60.6L354.0,59.9L354.6,59.2L355.3,58.4L356.0,57.7L356.7,57.0L357.4,56.3L358.1,55.6L358.8,54.9L359.5,54.2L360.1,53.5L360.8,52.8L361.5,52.1L362.2,51.4L362.9,50.7L363.6,50.0L364.3,49.3L365.0,48.6L365.6,47.9L366.3,47.2L367.0,46.5L367.7,45.8L368.4,45.1L369.1,44.5L369.8,43.8L370.5,43.1L371.2,42.5L371.8,41.8L372.5,41.2L373.2,40.6L373.9,39.9L374.6,39.3L375.3,38.7L376.0,38.1L376.7,37.5L377.3,36.9L378.0,36.3L378.7,35.7L379.4,35.2L380.1,34.6L380.8,34.1L381.5,33.5L382.2,33.0L382.8,32.5L383.5,32.0L384.2,31.5L384.9,31.0L385.6,30.5L386.3,30.0L387.0,29.6L387.7,29.1L388.3,28.7L389.0,28.3L389.7,27.9L390.4,27.5L391.1,27.1L391.8,26.7L392.5,26.3L393.2,26.0L393.8,25.6L394.5,25.3L395.2,25.0L395.9,24.7L396.6,24.4L397.3,24.1L398.0,23.8L398.7,23.6L399.3,23.3L400.0,23.1L400.7,22.9L401.4,22.7L402.1,22.5L402.8,22.3L403.5,22.1L404.2,22.0L404.9,21.8L405.5,21.7L406.2,21.6L406.9,21.5L407.6,21.4L408.3,21.3L409.0,21.2L409.7,21.2L410.4,21.1L411.0,21.1L411.7,21.1L412.4,21.1L413.1,21.1L413.8,21.1L414.5,21.1L415.2,21.2L415.9,21.2L416.5,21.3L417.2,21.4L417.9,21.4L418.6,21.5L419.3,21.7L420.0,21.8L420.7,21.9L421.4,22.1L422.0,22.2L422.7,22.4L423.4,22.6L424.1,22.8L424.8,23.0L425.5,23.2L426.2,23.4L426.9,23.7L427.5,23.9L428.2,24.2L428.9,24.4L429.6,24.7L430.3,25.0L431.0,25.3L431.7,25.6L432.4,26.0L433.0,26.3L433.7,26.7L434.4,27.0L435.1,27.4L435.8,27.8L436.5,28.1L437.2,28.5L437.9,29.0L438.6,29.4L439.2,29.8L439.9,30.2L440.6,30.7L441.3,31.1L442.0,31.6L442.7,32.1L443.4,32.6L444.1,33.1L444.7,33.6L445.4,34.1L446.1,34.6L446.8,35.1L447.5,35.6L448.2,36.2L448.9,36.7L449.6,37.3L450.2,37.9L450.9,38.4L451.6,39.0L452.3,39.6L453.0,40.2L453.7,40.8L454.4,41.4L455.1,42.0L455.7,42.6L456.4,43.3L457.1,43.9L457.8,44.5L458.5,45.2L459.2,45.8L459.9,46.5L460.6,47.1L461.2,47.8L461.9,48.4L462.6,49.1L463.3,49.8L464.0,50.5L464.7,51.1L465.4,51.8L466.1,52.5L466.7,53.2L467.4,53.9L468.1,54.6L468.8,55.2L469.5,55.9L470.2,56.6L470.9,57.3L471.6,58.0L472.3,58.7L472.9,59.4L473.6,60.1L474.3,60.8L475.0,61.5L475.7,62.2L476.4,62.8L477.1,63.5L477.8,64.2L478.4,64.9L479.1,65.6L479.8,66.2L480.5,66.9L481.2,67.6L481.9,68.2L482.6,68.9L483.3,69.6L483.9,70.2L484.6,70.8L485.3,71.5L486.0,72.1L486.7,72.8L487.4,73.4L488.1,74.0L488.8,74.6L489.4,75.2L490.1,75.8L490.8,76.4L491.5,77.0L492.2,77.5L492.9,78.1L493.6,78.7L494.3,79.2L494.9,79.8L495.6,80.3L496.3,80.8L497.0,81.3L497.7,81.9L498.4,82.4L499.1,82.8L499.8,83.3L500.4,83.8L501.1,84.3L501.8,84.7L502.5,85.1L503.2,85.6L503.9,86.0L504.6,86.4L505.3,86.8L505.9,87.2L506.6,87.6L507.3,88.0L508.0,88.3L508.7,88.7L509.4,89.0L510.1,89.3L510.8,89.6L511.5,89.9L512.1,90.2L512.8,90.5L513.5,90.8L514.2,91.1L514.9,91.3L515.6,91.5L516.3,91.8L517.0,92.0L517.6,92.2L518.3,92.4L519.0,92.6L519.7,92.7L520.4,92.9L521.1,93.1L521.8,93.2L522.5,93.3L523.1,93.4L523.8,93.5L524.5,93.6L525.2,93.7L525.9,93.8L526.6,93.9L527.3,93.9L528.0,93.9L528.6,94.0L529.3,94.0L530.0,94.0L530.7,94.0L531.4,94.0L532.1,93.9L532.8,93.9L533.5,93.9L534.1,93.8L534.8,93.7L535.5,93.6L536.2,93.5L536.9,93.4L537.6,93.3L538.3,93.2L539.0,93.1L539.6,92.9L540.3,92.8L541.0,92.6L541.7,92.4L542.4,92.2" stroke="#2020ff" stroke-width="1" stroke-dasharray="4.3 2.2"/>
<path d="M295.5,94.4L296.2,94.4L296.9,94.4L297.6,94.4L298.3,94.4L298.9,94.4L299.6,94.4L300.3,94.4L301.0,94.4L301.7,94.4L302.4,94.4L303.1,94.3L303.8,94.2L304.4,94.2L305.1,94.1L305.8,94.0L306.5,93.9L307.2,93.8L307.9,93.7L308.6,93.5L309.3,93.4L309.9,93.2L310.6,93.1L311.3,92.9L312.0,92.7L312.7,92.6L313.4,92.4L314.1,92.2L314.8,91.9L315.4,91.7L316.1,91.5L316.8,91.2L317.5,91.0L318.2,90.7L318.9,90.4L319.6,90.2L320.3,89.9L320.9,89.5L321.6,89.2L322.3,88.9L323.0,88.6L323.7,88.2L324.4,87.9L325.1,87.5L325.8,87.1L326.4,86.7L327.1,86.3L327.8,85.9L328.5,85.5L329.2,85.1L329.9,84.6L330.6,84.2L331.3,83.7L332.0,83.3L332.6,82.8L333.3,82.3L334.0,81.8L334.7,81.3L335.4,80.8L336.1,80.3L336.8,79.7L337.5,79.2L338.1,78.6L338.8,78.1L339.5,77.5L340.2,76.9L340.9,76.4L341.6,75.8L342.3,75.2L343.0,74.6L343.6,74.0L344.3,73.4L345.0,72.7L345.7,72.1L346.4,71.5L347.1,70.8L347.8,70.2L348.5,69.5L349.1,68.9L349.8,68.2L350.5,67.6L351.2,66.9L351.9,66.2L352.6,65.6L353.3,64.9L354.0,64.2L354.6,63.5L355.3,62.8L356.0,62.1L356.7,61.5L357.4,60.8L358.1,60.1L358.8,59.4L359.5,58.7L360.1,58.0L360.8,57.3L361.5,56.6L362.2,55.9L362.9,55.3L363.6,54.6L364.3,53.9L365.0,53.2L365.6,52.5L366.3,51.8L367.0,51.2L367.7,50.5L368.4,49.8L369.1,49.2L369.8,48.5L370.5,47.9L371.2,47.2L371.8,46.6L372.5,45.9L373.2,45.3L373.9,44.6L374.6,44.0L375.3,43.4L376.0,42.8L376.7,42.2L377.3,41.6L378.0,41.0L378.7,40.4L379.4,39.8L380.1,39.3L380.8,38.7L381.5,38.1L382.2,37.6L382.8,37.1L383.5,36.5L384.2,36.0L384.9,35.5L385.6,35.0L386.3,34.5L387.0,34.0L387.7,33.5L388.3,33.0L389.0,32.6L389.7,32.1L390.4,31.7L391.1,31.2L391.8,30.8L392.5,30.4L393.2,30.0L393.8,29.6L394.5,29.2L395.2,28.8L395.9,28.5L396.6,28.1L397.3,27.8L398.0,27.4L398.7,27.1L399.3,26.8L400.0,26.5L400.7,26.2L401.4,25.9L402.1,25.6L402.8,25.3L403.5,25.1L404.2,24.8L404.9,24.6L405.5,24.4L406.2,24.2L406.9,24.0L407.6,23.8L408.3,23.6L409.0,23.4L409.7,23.3L410.4,23.1L411.0,23.0L411.7,22.8L412.4,22.7L413.1,22.6L413.8,22.5L414.5,22.4L415.2,22.4L415.9,22.3L416.5,22.3L417.2,22.2L417.9,22.2L418.6,22.2L419.3,22.2L420.0,22.2L420.7,22.2L421.4,22.2L422.0,22.3L422.7,22.3L423.4,22.4L424.1,22.5L424.8,22.6L425.5,22.7L426.2,22.8L426.9,22.9L427.5,23.0L428.2,23.2L428.9,23.3L429.6,23.5L430.3,23.7L431.0,23.9L431.7,24.1L432.4,24.3L433.0,24.6L433.7,24.8L434.4,25.1L435.1,25.3L435.8,25.6L436.5,25.9L437.2,26.2L437.9,26.6L438.6,26.9L439.2,27.2L439.9,27.6L440.6,28.0L441.3,28.3L442.0,28.7L442.7,29.1L443.4,29.5L444.1,30.0L444.7,30.4L445.4,30.9L446.1,31.3L446.8,31.8L447.5,32.3L448.2,32.8L448.9,33.3L449.6,33.8L450.2,34.3L450.9,34.9L451.6,35.4L452.3,36.0L453.0,36.5L453.7,37.1L454.4,37.7L455.1,38.3L455.7,38.9L456.4,39.5L457.1,40.1L457.8,40.8L458.5,41.4L459.2,42.0L459.9,42.7L460.6,43.3L461.2,44.0L461.9,44.7L462.6,45.3L463.3,46.0L464.0,46.7L464.7,47.4L465.4,48.1L466.1,48.8L466.7,49.5L467.4,50.2L468.1,50.9L468.8,51.6L469.5,52.4L470.2,53.1L470.9,53.8L471.6,54.5L472.3,55.2L472.9,56.0L473.6,56.7L474.3,57.4L475.0,58.1L475.7,58.8L476.4,59.6L477.1,60.3L477.8,61.0L478.4,61.7L479.1,62.4L479.8,63.1L480.5,63.8L481.2,64.6L481.9,65.3L482.6,65.9L483.3,66.6L483.9,67.3L484.6,68.0L485.3,68.7L486.0,69.4L486.7,70.0L487.4,70.7L488.1,71.3L488.8,72.0L489.4,72.6L490.1,73.3L490.8,73.9L491.5,74.5L492.2,75.1L492.9,75.7L493.6,76.3L494.3,76.9L494.9,77.5L495.6,78.0L496.3,78.6L497.0,79.1L497.7,79.7L498.4,80.2L499.1,80.7L499.8,81.3L500.4,81.8L501.1,82.3L501.8,82.7L502.5,83.2L503.2,83.7L503.9,84.1L504.6,84.6L505.3,85.0L505.9,85.4L506.6,85.9L507.3,86.3L508.0,86.7L508.7,87.0L509.4,87.4L510.1,87.8L510.8,88.1L511.5,88.5L512.1,88.8L512.8,89.1L513.5,89.4L514.2,89.7L514.9,90.0L515.6,90.3L516.3,90.6L517.0,90.9L517.6,91.1L518.3,91.3L519.0,91.6L519.7,91.8L520.4,92.0L521.1,92.2L521.8,92.4L522.5,92.6L523.1,92.8L523.8,92.9L524.5,93.1L525.2,93.2L525.9,93.3L526.6,93.5L527.3,93.6L528.0,93.7L528.6,93.8L529.3,93.9L530.0,93.9L530.7,94.0L531.4,94.1L532.1,94.1L532.8,94.1L533.5,94.2L534.1,94.2L534.8,94.2L535.5,94.2L536.2,94.2L536.9,94.2L537.6,94.1L538.3,94.1L539.0,94.0L539.6,94.0L540.3,93.9L541.0,93.8L541.7,93.7L542.4,93.6" stroke="#42a642" stroke-width="1.3" stroke-dasharray="4.3 2.2"/>
<path d="M295.5,94.4L296.2,94.4L296.9,94.4L297.6,94.4L298.3,94.3L298.9,94.3L299.6,94.2L300.3,94.1L301.0,94.0L301.7,94.0L302.4,93.9L303.1,93.7L303.8,93.6L304.4,93.5L305.1,93.4L305.8,93.2L306.5,93.0L307.2,92.9L307.9,92.7L308.6,92.5L309.3,92.3L309.9,92.1L310.6,91.9L311.3,91.6L312.0,91.4L312.7,91.1L313.4,90.9L314.1,90.6L314.8,90.3L315.4,90.0L316.1,89.7L316.8,89.4L317.5,89.1L318.2,88.8L318.9,88.4L319.6,88.1L320.3,87.7L320.9,87.3L321.6,86.9L322.3,86.5L323.0,86.1L323.7,85.7L324.4,85.3L325.1,84.9L325.8,84.4L326.4,84.0L327.1,83.5L327.8,83.1L328.5,82.6L329.2,82.1L329.9,81.6L330.6,81.1L331.3,80.6L332.0,80.1L332.6,79.5L333.3,79.0L334.0,78.4L334.7,77.9L335.4,77.3L336.1,76.7L336.8,76.2L337.5,75.6L338.1,75.0L338.8,74.4L339.5,73.8L340.2,73.1L340.9,72.5L341.6,71.9L342.3,71.2L343.0,70.6L343.6,70.0L344.3,69.3L345.0,68.6L345.7,68.0L346.4,67.3L347.1,66.6L347.8,66.0L348.5,65.3L349.1,64.6L349.8,63.9L350.5,63.2L351.2,62.5L351.9,61.8L352.6,61.1L353.3,60.4L354.0,59.7L354.6,59.0L355.3,58.3L356.0,57.6L356.7,56.9L357.4,56.1L358.1,55.4L358.8,54.7L359.5,54.0L360.1,53.3L360.8,52.6L361.5,51.9L362.2,51.2L362.9,50.5L363.6,49.8L364.3,49.1L365.0,48.4L365.6,47.7L366.3,47.0L367.0,46.3L367.7,45.7L368.4,45.0L369.1,44.3L369.8,43.6L370.5,43.0L371.2,42.3L371.8,41.7L372.5,41.0L373.2,40.4L373.9,39.8L374.6,39.2L375.3,38.5L376.0,37.9L376.7,37.3L377.3,36.8L378.0,36.2L378.7,35.6L379.4,35.0L380.1,34.5L380.8,33.9L381.5,33.4L382.2,32.9L382.8,32.4L383.5,31.9L384.2,31.4L384.9,30.9L385.6,30.4L386.3,29.9L387.0,29.5L387.7,29.0L388.3,28.6L389.0,28.2L389.7,27.8L390.4,27.4L391.1,27.0L391.8,26.6L392.5,26.3L393.2,25.9L393.8,25.6L394.5,25.2L395.2,24.9L395.9,24.6L396.6,24.3L397.3,24.0L398.0,23.8L398.7,23.5L399.3,23.3L400.0,23.1L400.7,22.8L401.4,22.6L402.1,22.4L402.8,22.3L403.5,22.1L404.2,21.9L404.9,21.8L405.5,21.7L406.2,21.6L406.9,21.5L407.6,21.4L408.3,21.3L409.0,21.2L409.7,21.2L410.4,21.1L411.0,21.1L411.7,21.1L412.4,21.1L413.1,21.1L413.8,21.1L414.5,21.1L415.2,21.2L415.9,21.2L416.5,21.3L417.2,21.4L417.9,21.5L418.6,21.6L419.3,21.7L420.0,21.8L420.7,22.0L421.4,22.1L422.0,22.3L422.7,22.4L423.4,22.6L424.1,22.8L424.8,23.0L425.5,23.2L426.2,23.5L426.9,23.7L427.5,24.0L428.2,24.2L428.9,24.5L429.6,24.8L430.3,25.1L431.0,25.4L431.7,25.7L432.4,26.1L433.0,26.4L433.7,26.7L434.4,27.1L435.1,27.5L435.8,27.9L436.5,28.2L437.2,28.6L437.9,29.1L438.6,29.5L439.2,29.9L439.9,30.3L440.6,30.8L441.3,31.3L442.0,31.7L442.7,32.2L443.4,32.7L444.1,33.2L444.7,33.7L445.4,34.2L446.1,34.7L446.8,35.2L447.5,35.8L448.2,36.3L448.9,36.9L449.6,37.4L450.2,38.0L450.9,38.6L451.6,39.2L452.3,39.7L453.0,40.3L453.7,40.9L454.4,41.5L455.1,42.2L455.7,42.8L456.4,43.4L457.1,44.0L457.8,44.7L458.5,45.3L459.2,46.0L459.9,46.6L460.6,47.3L461.2,47.9L461.9,48.6L462.6,49.3L463.3,49.9L464.0,50.6L464.7,51.3L465.4,52.0L466.1,52.7L466.7,53.3L467.4,54.0L468.1,54.7L468.8,55.4L469.5,56.1L470.2,56.8L470.9,57.5L471.6,58.2L472.3,58.9L472.9,59.6L473.6,60.3L474.3,60.9L475.0,61.6L475.7,62.3L476.4,63.0L477.1,63.7L477.8,64.4L478.4,65.1L479.1,65.7L479.8,66.4L480.5,67.1L481.2,67.7L481.9,68.4L482.6,69.1L483.3,69.7L483.9,70.4L484.6,71.0L485.3,71.6L486.0,72.3L486.7,72.9L487.4,73.5L488.1,74.1L488.8,74.7L489.4,75.3L490.1,75.9L490.8,76.5L491.5,77.1L492.2,77.7L492.9,78.2L493.6,78.8L494.3,79.4L494.9,79.9L495.6,80.4L496.3,81.0L497.0,81.5L497.7,82.0L498.4,82.5L499.1,83.0L499.8,83.4L500.4,83.9L501.1,84.4L501.8,84.8L502.5,85.3L503.2,85.7L503.9,86.1L504.6,86.5L505.3,86.9L505.9,87.3L506.6,87.7L507.3,88.0L508.0,88.4L508.7,88.7L509.4,89.1L510.1,89.4L510.8,89.7L511.5,90.0L512.1,90.3L512.8,90.6L513.5,90.9L514.2,91.1L514.9,91.4L515.6,91.6L516.3,91.8L517.0,92.0L517.6,92.2L518.3,92.4L519.0,92.6L519.7,92.8L520.4,92.9L521.1,93.1L521.8,93.2L522.5,93.4L523.1,93.5L523.8,93.6L524.5,93.7L525.2,93.7L525.9,93.8L526.6,93.9L527.3,93.9L528.0,93.9L528.6,94.0L529.3,94.0L530.0,94.0L530.7,94.0L531.4,94.0L532.1,93.9L532.8,93.9L533.5,93.8L534.1,93.8L534.8,93.7L535.5,93.6L536.2,93.5L536.9,93.4L537.6,93.3L538.3,93.2L539.0,93.0L539.6,92.9L540.3,92.7L541.0,92.5L541.7,92.4L542.4,92.2" stroke="#3646aa" stroke-width="1.2"/>
<path d="M295.5,94.4L296.2,94.4L296.9,94.4L297.6,94.3L298.3,94.3L298.9,94.2L299.6,94.2L300.3,94.1L301.0,94.0L301.7,93.9L302.4,93.8L303.1,93.7L303.8,93.6L304.4,93.4L305.1,93.3L305.8,93.1L306.5,92.9L307.2,92.8L307.9,92.6L308.6,92.4L309.3,92.2L309.9,92.0L310.6,91.7L311.3,91.5L312.0,91.3L312.7,91.0L313.4,90.7L314.1,90.4L314.8,90.2L315.4,89.9L316.1,89.6L316.8,89.2L317.5,88.9L318.2,88.6L318.9,88.2L319.6,87.9L320.3,87.5L320.9,87.1L321.6,86.7L322.3,86.3L323.0,85.9L323.7,85.5L324.4,85.1L325.1,84.6L325.8,84.2L326.4,83.7L327.1,83.3L327.8,82.8L328.5,82.3L329.2,81.8L329.9,81.3L330.6,80.8L331.3,80.3L332.0,79.8L332.6,79.2L333.3,78.7L334.0,78.1L334.7,77.6L335.4,77.0L336.1,76.4L336.8,75.8L337.5,75.2L338.1,74.6L338.8,74.0L339.5,73.4L340.2,72.8L340.9,72.2L341.6,71.5L342.3,70.9L343.0,70.2L343.6,69.6L344.3,68.9L345.0,68.3L345.7,67.6L346.4,66.9L347.1,66.3L347.8,65.6L348.5,64.9L349.1,64.2L349.8,63.5L350.5,62.8L351.2,62.1L351.9,61.4L352.6,60.7L353.3,60.0L354.0,59.3L354.6,58.6L355.3,57.9L356.0,57.2L356.7,56.5L357.4,55.7L358.1,55.0L358.8,54.3L359.5,53.6L360.1,52.9L360.8,52.2L361.5,51.5L362.2,50.8L362.9,50.1L363.6,49.4L364.3,48.7L365.0,48.0L365.6,47.3L366.3,46.6L367.0,46.0L367.7,45.3L368.4,44.6L369.1,43.9L369.8,43.3L370.5,42.6L371.2,42.0L371.8,41.3L372.5,40.7L373.2,40.1L373.9,39.4L374.6,38.8L375.3,38.2L376.0,37.6L376.7,37.0L377.3,36.4L378.0,35.9L378.7,35.3L379.4,34.7L380.1,34.2L380.8,33.6L381.5,33.1L382.2,32.6L382.8,32.1L383.5,31.6L384.2,31.1L384.9,30.6L385.6,30.1L386.3,29.7L387.0,29.2L387.7,28.8L388.3,28.4L389.0,28.0L389.7,27.5L390.4,27.2L391.1,26.8L391.8,26.4L392.5,26.1L393.2,25.7L393.8,25.4L394.5,25.1L395.2,24.7L395.9,24.5L396.6,24.2L397.3,23.9L398.0,23.6L398.7,23.4L399.3,23.2L400.0,22.9L400.7,22.7L401.4,22.5L402.1,22.3L402.8,22.2L403.5,22.0L404.2,21.9L404.9,21.7L405.5,21.6L406.2,21.5L406.9,21.4L407.6,21.3L408.3,21.2L409.0,21.2L409.7,21.1L410.4,21.1L411.0,21.1L411.7,21.1L412.4,21.1L413.1,21.1L413.8,21.1L414.5,21.1L415.2,21.2L415.9,21.3L416.5,21.3L417.2,21.4L417.9,21.5L418.6,21.6L419.3,21.8L420.0,21.9L420.7,22.0L421.4,22.2L422.0,22.4L422.7,22.5L423.4,22.7L424.1,22.9L424.8,23.2L425.5,23.4L426.2,23.6L426.9,23.9L427.5,24.1L428.2,24.4L428.9,24.7L429.6,25.0L430.3,25.3L431.0,25.6L431.7,25.9L432.4,26.2L433.0,26.6L433.7,26.9L434.4,27.3L435.1,27.7L435.8,28.1L436.5,28.5L437.2,28.9L437.9,29.3L438.6,29.7L439.2,30.1L439.9,30.6L440.6,31.0L441.3,31.5L442.0,32.0L442.7,32.5L443.4,33.0L444.1,33.5L444.7,34.0L445.4,34.5L446.1,35.0L446.8,35.5L447.5,36.1L448.2,36.6L448.9,37.2L449.6,37.7L450.2,38.3L450.9,38.9L451.6,39.5L452.3,40.1L453.0,40.7L453.7,41.3L454.4,41.9L455.1,42.5L455.7,43.1L456.4,43.8L457.1,44.4L457.8,45.0L458.5,45.7L459.2,46.3L459.9,47.0L460.6,47.6L461.2,48.3L461.9,49.0L462.6,49.6L463.3,50.3L464.0,51.0L464.7,51.7L465.4,52.4L466.1,53.0L466.7,53.7L467.4,54.4L468.1,55.1L468.8,55.8L469.5,56.5L470.2,57.2L470.9,57.9L471.6,58.6L472.3,59.3L472.9,59.9L473.6,60.6L474.3,61.3L475.0,62.0L475.7,62.7L476.4,63.4L477.1,64.1L477.8,64.8L478.4,65.4L479.1,66.1L479.8,66.8L480.5,67.4L481.2,68.1L481.9,68.8L482.6,69.4L483.3,70.1L483.9,70.7L484.6,71.4L485.3,72.0L486.0,72.6L486.7,73.2L487.4,73.9L488.1,74.5L488.8,75.1L489.4,75.7L490.1,76.3L490.8,76.9L491.5,77.4L492.2,78.0L492.9,78.6L493.6,79.1L494.3,79.7L494.9,80.2L495.6,80.7L496.3,81.2L497.0,81.8L497.7,82.3L498.4,82.7L499.1,83.2L499.8,83.7L500.4,84.2L501.1,84.6L501.8,85.1L502.5,85.5L503.2,85.9L503.9,86.3L504.6,86.7L505.3,87.1L505.9,87.5L506.6,87.9L507.3,88.2L508.0,88.6L508.7,88.9L509.4,89.3L510.1,89.6L510.8,89.9L511.5,90.2L512.1,90.5L512.8,90.7L513.5,91.0L514.2,91.3L514.9,91.5L515.6,91.7L516.3,91.9L517.0,92.2L517.6,92.4L518.3,92.5L519.0,92.7L519.7,92.9L520.4,93.0L521.1,93.2L521.8,93.3L522.5,93.4L523.1,93.5L523.8,93.6L524.5,93.7L525.2,93.8L525.9,93.8L526.6,93.9L527.3,93.9L528.0,94.0L528.6,94.0L529.3,94.0L530.0,94.0L530.7,94.0L531.4,93.9L532.1,93.9L532.8,93.9L533.5,93.8L534.1,93.7L534.8,93.7L535.5,93.6L536.2,93.5L536.9,93.3L537.6,93.2L538.3,93.1L539.0,92.9L539.6,92.8L540.3,92.6L541.0,92.4L541.7,92.3L542.4,92.1" stroke="#ff30ff" stroke-width="1.2"/>
</g>
<g font-family="Liberation Sans, Arial, sans-serif" font-size="6.5" fill="#262626" text-anchor="middle">
<text x="295.50" y="114.80">0</text>
<text x="322.93" y="114.80">5</text>
<text x="350.37" y="114.80">10</text>
<text x="377.80" y="114.80">15</text>
<text x="405.23" y="114.80">20</text>
<text x="432.67" y="114.80">25</text>
<text x="460.10" y="114.80">30</text>
<text x="487.53" y="114.80">35</text>
<text x="514.97" y="114.80">40</text>
<text x="542.40" y="114.80">45</text>
</g><g font-family="Liberation Sans, Arial, sans-serif" font-size="6.5" fill="#262626" text-anchor="end">
<text x="292.90" y="97.02">0</text>
<text x="292.90" y="75.07">2</text>
<text x="292.90" y="53.11">4</text>
<text x="292.90" y="31.16">6</text>
<text x="292.90" y="9.20">8</text>
</g>
<text x="421.00" y="124.60" text-anchor="middle" font-size="7.5" fill="#262626" font-family="Liberation Sans, Arial, sans-serif">Time (s)</text>
<text transform="translate(285.00,55.85) rotate(-90)" text-anchor="middle" font-size="7.55" fill="#262626" font-family="Liberation Sans, Arial, sans-serif">Y displacement (m)</text>
</g>
<g>
<path d="M50.11,124.50V220.10M77.72,124.50V220.10M105.33,124.50V220.10M132.94,124.50V220.10M160.56,124.50V220.10M188.17,124.50V220.10M215.78,124.50V220.10M243.39,124.50V220.10M22.50,204.17H271.00M22.50,188.23H271.00M22.50,172.30H271.00M22.50,156.37H271.00M22.50,140.43H271.00" stroke="#c6c6c6" stroke-width="0.8" stroke-dasharray="1 1" fill="none"/>
<rect x="22.50" y="124.50" width="248.50" height="95.60" fill="none" stroke="#8c8c8c" stroke-width="1"/>
<path d="M22.50,220.10v-2.2M22.50,124.50v2.2M50.11,220.10v-2.2M50.11,124.50v2.2M77.72,220.10v-2.2M77.72,124.50v2.2M105.33,220.10v-2.2M105.33,124.50v2.2M132.94,220.10v-2.2M132.94,124.50v2.2M160.56,220.10v-2.2M160.56,124.50v2.2M188.17,220.10v-2.2M188.17,124.50v2.2M215.78,220.10v-2.2M215.78,124.50v2.2M243.39,220.10v-2.2M243.39,124.50v2.2M271.00,220.10v-2.2M271.00,124.50v2.2M22.50,220.10h2.2M271.00,220.10h-2.2M22.50,204.17h2.2M271.00,204.17h-2.2M22.50,188.23h2.2M271.00,188.23h-2.2M22.50,172.30h2.2M271.00,172.30h-2.2M22.50,156.37h2.2M271.00,156.37h-2.2M22.50,140.43h2.2M271.00,140.43h-2.2M22.50,124.50h2.2M271.00,124.50h-2.2" stroke="#8c8c8c" stroke-width="0.8" fill="none"/>
<g fill="none" stroke-linejoin="round">
<path d="M22.5,170.2L22.7,170.0L22.9,169.8L23.1,169.6L23.3,169.5L23.5,169.3L23.6,169.1L23.8,168.9L24.0,168.7L24.2,168.6L24.4,168.4L24.6,168.2L24.8,168.0L25.0,167.9L25.2,167.7L25.4,167.5L25.5,167.3L25.7,167.1L25.9,167.0L26.1,166.8L26.3,166.6L26.5,166.4L26.7,166.3L26.9,166.1L27.1,165.9L27.3,165.7L27.5,165.6L27.6,165.4L27.8,165.2L28.0,165.0L28.6,164.5L29.2,164.0L29.8,163.4L30.3,162.9L30.9,162.4L31.5,161.8L32.1,161.3L32.7,160.8L33.2,160.3L33.8,159.8L34.4,159.3L35.0,158.7L35.6,158.2L36.1,157.7L36.7,157.2L37.3,156.7L37.9,156.2L38.5,155.7L39.0,155.3L39.6,154.8L40.2,154.3L40.8,153.8L41.4,153.3L41.9,152.9L42.5,152.4L43.1,151.9L43.7,151.5L44.3,151.0L44.8,150.6L45.4,150.2L46.0,149.7L46.6,149.3L47.2,148.9L47.7,148.4L48.3,148.0L48.9,147.6L49.5,147.2L50.1,146.8L50.6,146.4L51.2,146.0L51.8,145.7L52.4,145.3L53.0,144.9L53.5,144.5L54.1,144.2L54.7,143.8L55.3,143.5L55.9,143.2L56.4,142.8L57.0,142.5L57.6,142.2L58.2,141.9L58.8,141.6L59.3,141.3L59.9,141.0L60.5,140.7L61.1,140.5L61.7,140.2L62.2,139.9L62.8,139.7L63.4,139.4L64.0,139.2L64.6,139.0L65.1,138.8L65.7,138.5L66.3,138.3L66.9,138.1L67.5,138.0L68.0,137.8L68.6,137.6L69.2,137.4L69.8,137.3L70.4,137.1L70.9,137.0L71.5,136.9L72.1,136.7L72.7,136.6L73.3,136.5L73.8,136.4L74.4,136.3L75.0,136.3L75.6,136.2L76.2,136.1L76.7,136.1L77.3,136.0L77.9,136.0L78.5,135.9L79.1,135.9L79.6,135.9L80.2,135.9L80.8,135.9L81.4,135.9L82.0,135.9L82.5,136.0L83.1,136.0L83.7,136.1L84.3,136.1L84.9,136.2L85.4,136.2L86.0,136.3L86.6,136.4L87.2,136.5L87.8,136.6L88.3,136.7L88.9,136.9L89.5,137.0L90.1,137.1L90.7,137.3L91.2,137.4L91.8,137.6L92.4,137.8L93.0,137.9L93.6,138.1L94.1,138.3L94.7,138.5L95.3,138.7L95.9,139.0L96.5,139.2L97.0,139.4L97.6,139.7L98.2,139.9L98.8,140.2L99.3,140.4L99.9,140.7L100.5,141.0L101.1,141.3L101.7,141.6L102.2,141.9L102.8,142.2L103.4,142.5L104.0,142.8L104.6,143.1L105.1,143.5L105.7,143.8L106.3,144.2L106.9,144.5L107.5,144.9L108.0,145.2L108.6,145.6L109.2,146.0L109.8,146.4L110.4,146.8L110.9,147.2L111.5,147.6L112.1,148.0L112.7,148.4L113.3,148.8L113.8,149.2L114.4,149.7L115.0,150.1L115.6,150.6L116.2,151.0L116.7,151.4L117.3,151.9L117.9,152.4L118.5,152.8L119.1,153.3L119.6,153.8L120.2,154.2L120.8,154.7L121.4,155.2L122.0,155.7L122.5,156.2L123.1,156.7L123.7,157.2L124.3,157.7L124.9,158.2L125.4,158.7L126.0,159.2L126.6,159.7L127.2,160.2L127.8,160.8L128.3,161.3L128.9,161.8L129.5,162.3L130.1,162.9L130.7,163.4L131.2,163.9L131.8,164.4L132.4,165.0L133.0,165.5L133.6,166.1L134.1,166.6L134.7,167.1L135.3,167.7L135.9,168.2L136.5,168.7L137.0,169.3L137.6,169.8L138.2,170.4L138.8,170.9L139.4,171.5L139.9,172.0L140.5,172.5L141.1,173.1L141.7,173.6L142.3,174.1L142.8,174.7L143.4,175.2L144.0,175.8L144.6,176.3L145.2,176.8L145.7,177.4L146.3,177.9L146.9,178.4L147.5,178.9L148.1,179.5L148.6,180.0L149.2,180.5L149.8,181.0L150.4,181.5L151.0,182.0L151.5,182.5L152.1,183.0L152.7,183.5L153.3,184.0L153.9,184.5L154.4,185.0L155.0,185.5L155.6,186.0L156.2,186.5L156.8,186.9L157.3,187.4L157.9,187.9L158.5,188.3L159.1,188.8L159.7,189.3L160.2,189.7L160.8,190.2L161.4,190.6L162.0,191.0L162.6,191.5L163.1,191.9L163.7,192.3L164.3,192.7L164.9,193.1L165.5,193.5L166.0,193.9L166.6,194.3L167.2,194.7L167.8,195.1L168.4,195.4L168.9,195.8L169.5,196.2L170.1,196.5L170.7,196.9L171.3,197.2L171.8,197.5L172.4,197.9L173.0,198.2L173.6,198.5L174.2,198.8L174.7,199.1L175.3,199.4L175.9,199.7L176.5,199.9L177.1,200.2L177.6,200.5L178.2,200.7L178.8,201.0L179.4,201.2L180.0,201.4L180.5,201.7L181.1,201.9L181.7,202.1L182.3,202.3L182.9,202.5L183.4,202.7L184.0,202.9L184.6,203.0L185.2,203.2L185.8,203.3L186.3,203.5L186.9,203.6L187.5,203.7L188.1,203.9L188.7,204.0L189.2,204.1L189.8,204.2L190.4,204.3L191.0,204.3L191.6,204.4L192.1,204.5L192.7,204.5L193.3,204.6L193.9,204.6L194.5,204.6L195.0,204.6L195.6,204.6L196.2,204.6L196.8,204.6L197.4,204.6L197.9,204.6L198.5,204.6L199.1,204.5L199.7,204.5L200.3,204.4L200.8,204.3L201.4,204.3L202.0,204.2L202.6,204.1L203.2,204.0L203.7,203.9L204.3,203.8L204.9,203.6L205.5,203.5L206.1,203.4L206.6,203.2L207.2,203.1L207.8,202.9L208.4,202.7L209.0,202.5L209.5,202.3L210.1,202.1L210.7,201.9L211.3,201.7L211.9,201.5L212.4,201.3L213.0,201.0L213.6,200.8L214.2,200.5L214.7,200.3L215.3,200.0L215.9,199.7L216.5,199.4L217.1,199.1L217.6,198.9L218.2,198.5L218.8,198.2L219.4,197.9L220.0,197.6L220.5,197.3L221.1,196.9L221.7,196.6L222.3,196.2L222.9,195.9L223.4,195.5L224.0,195.1L224.6,194.8L225.2,194.4L225.8,194.0L226.3,193.6L226.9,193.2L227.5,192.8L228.1,192.4L228.7,192.0L229.2,191.5L229.8,191.1L230.4,190.7L231.0,190.2L231.6,189.8L232.1,189.3L232.7,188.9L233.3,188.4L233.9,188.0L234.5,187.5L235.0,187.0L235.6,186.6L236.2,186.1L236.8,185.6L237.4,185.1L237.9,184.6L238.5,184.1L239.1,183.6L239.7,183.1L240.3,182.6L240.8,182.1L241.4,181.6L242.0,181.1L242.6,180.6L243.2,180.1L243.7,179.6L244.3,179.0L244.9,178.5L245.5,178.0L246.1,177.5L246.6,176.9L247.2,176.4L247.8,175.9L248.4,175.3L249.0,174.8L249.5,174.3L250.1,173.7L250.7,173.2L251.3,172.6L251.9,172.1L252.4,171.6L253.0,171.0L253.6,170.5L254.2,169.9L254.8,169.4L255.3,168.9L255.9,168.3L256.5,167.8L257.1,167.2L257.7,166.7L258.2,166.2L258.8,165.6L259.4,165.1L260.0,164.5L260.6,164.0L261.1,163.5L261.7,163.0L262.3,162.4L262.9,161.9L263.5,161.4L264.0,160.9L264.6,160.3L265.2,159.8L265.8,159.3L266.4,158.8L266.9,158.3L267.5,157.8L268.1,157.3L268.7,156.8L269.3,156.3L269.8,155.8L270.4,155.3L271.0,154.8" stroke="#ff2020" stroke-width="0.95"/>
<path d="M22.5,204.1L22.7,196.3L22.9,189.2L23.1,184.3L23.3,180.0L23.5,178.4L23.6,175.6L23.8,175.0L24.0,172.2L24.2,172.3L24.4,172.0L24.6,170.2L24.8,168.9L25.0,170.1L25.2,169.5L25.4,168.9L25.5,168.8L25.7,167.6L25.9,168.1L26.1,167.8L26.3,166.8L26.5,167.4L26.7,166.4L26.9,167.1L27.1,167.1L27.3,167.3L27.5,164.7L27.6,165.9L27.8,165.3L28.0,165.3L28.6,164.6L29.2,164.1L29.8,162.3L30.3,163.6L30.9,163.4L31.5,162.5L32.1,162.1L32.7,160.2L33.2,159.6L33.8,160.1L34.4,159.8L35.0,158.6L35.6,156.9L36.1,159.0L36.7,156.4L37.3,156.8L37.9,154.9L38.5,155.7L39.0,154.7L39.6,155.0L40.2,154.1L40.8,152.1L41.4,151.9L41.9,152.2L42.5,152.0L43.1,152.2L43.7,150.7L44.3,150.0L44.8,149.6L45.4,149.1L46.0,149.4L46.6,148.2L47.2,147.8L47.7,146.5L48.3,145.7L48.9,146.6L49.5,146.6L50.1,145.8L50.6,145.7L51.2,145.4L51.8,144.6L52.4,144.9L53.0,143.5L53.5,143.6L54.1,143.0L54.7,142.9L55.3,143.0L55.9,142.8L56.4,142.0L57.0,141.9L57.6,141.1L58.2,140.9L58.8,141.5L59.3,140.3L59.9,140.9L60.5,140.2L61.1,139.7L61.7,140.6L62.2,138.9L62.8,138.6L63.4,138.6L64.0,138.5L64.6,138.2L65.1,138.4L65.7,137.7L66.3,137.7L66.9,137.1L67.5,137.7L68.0,136.6L68.6,136.5L69.2,136.5L69.8,136.5L70.4,135.7L70.9,137.0L71.5,135.5L72.1,135.5L72.7,135.3L73.3,135.1L73.8,135.7L74.4,135.3L75.0,134.7L75.6,134.7L76.2,134.8L76.7,135.8L77.3,134.4L77.9,134.0L78.5,134.0L79.1,134.5L79.6,135.6L80.2,134.0L80.8,134.7L81.4,136.2L82.0,134.4L82.5,135.6L83.1,135.5L83.7,135.1L84.3,133.9L84.9,135.0L85.4,134.7L86.0,133.8L86.6,134.0L87.2,135.1L87.8,135.3L88.3,136.1L88.9,135.8L89.5,135.2L90.1,135.4L90.7,135.7L91.2,135.3L91.8,136.6L92.4,136.3L93.0,136.0L93.6,136.2L94.1,136.1L94.7,136.7L95.3,137.4L95.9,137.2L96.5,138.3L97.0,138.9L97.6,137.8L98.2,138.4L98.8,138.4L99.3,140.0L99.9,139.4L100.5,139.8L101.1,140.3L101.7,141.5L102.2,140.5L102.8,140.1L103.4,140.7L104.0,141.7L104.6,141.6L105.1,141.5L105.7,144.0L106.3,142.7L106.9,142.6L107.5,142.9L108.0,142.6L108.6,143.4L109.2,144.3L109.8,144.7L110.4,144.8L110.9,146.0L111.5,146.1L112.1,145.9L112.7,145.7L113.3,147.5L113.8,147.8L114.4,148.1L115.0,147.8L115.6,149.2L116.2,148.7L116.7,150.7L117.3,150.6L117.9,151.1L118.5,151.0L119.1,151.3L119.6,153.4L120.2,153.5L120.8,153.2L121.4,154.3L122.0,155.4L122.5,154.2L123.1,155.1L123.7,155.6L124.3,156.7L124.9,156.3L125.4,157.6L126.0,157.3L126.6,159.1L127.2,159.6L127.8,159.5L128.3,160.6L128.9,160.3L129.5,161.1L130.1,162.4L130.7,162.3L131.2,163.1L131.8,162.8L132.4,164.4L133.0,164.8L133.6,164.3L134.1,164.2L134.7,164.9L135.3,166.7L135.9,167.2L136.5,166.9L137.0,168.5L137.6,169.6L138.2,169.5L138.8,169.8L139.4,171.2L139.9,172.3L140.5,172.7L141.1,171.9L141.7,173.4L142.3,173.6L142.8,173.9L143.4,174.2L144.0,175.4L144.6,175.4L145.2,176.8L145.7,177.0L146.3,178.0L146.9,177.2L147.5,178.5L148.1,179.5L148.6,179.8L149.2,180.2L149.8,180.2L150.4,182.2L151.0,182.4L151.5,182.5L152.1,181.1L152.7,182.7L153.3,183.9L153.9,183.9L154.4,183.5L155.0,185.5L155.6,186.1L156.2,185.6L156.8,186.5L157.3,186.9L157.9,188.2L158.5,187.1L159.1,187.7L159.7,188.9L160.2,189.3L160.8,191.5L161.4,190.3L162.0,191.3L162.6,191.3L163.1,191.6L163.7,192.7L164.3,194.0L164.9,193.1L165.5,194.2L166.0,194.4L166.6,195.0L167.2,195.2L167.8,196.9L168.4,195.0L168.9,196.0L169.5,195.9L170.1,195.7L170.7,197.3L171.3,198.8L171.8,198.6L172.4,199.2L173.0,199.1L173.6,199.0L174.2,200.7L174.7,199.5L175.3,201.0L175.9,200.1L176.5,200.7L177.1,201.1L177.6,201.3L178.2,201.8L178.8,202.1L179.4,203.1L180.0,202.3L180.5,201.3L181.1,201.5L181.7,202.1L182.3,202.7L182.9,203.8L183.4,202.7L184.0,203.8L184.6,204.0L185.2,204.3L185.8,204.3L186.3,204.8L186.9,204.7L187.5,205.5L188.1,205.2L188.7,203.6L189.2,205.2L189.8,205.4L190.4,205.0L191.0,205.0L191.6,206.3L192.1,205.8L192.7,205.1L193.3,205.6L193.9,205.7L194.5,204.9L195.0,206.3L195.6,205.8L196.2,206.2L196.8,205.0L197.4,207.2L197.9,206.3L198.5,206.2L199.1,205.4L199.7,205.4L200.3,204.9L200.8,206.7L201.4,205.2L202.0,205.7L202.6,205.9L203.2,205.0L203.7,205.9L204.3,206.5L204.9,205.3L205.5,205.9L206.1,205.2L206.6,204.4L207.2,204.3L207.8,203.3L208.4,204.3L209.0,205.0L209.5,204.3L210.1,204.2L210.7,204.2L211.3,202.9L211.9,203.4L212.4,204.0L213.0,202.1L213.6,202.3L214.2,201.8L214.7,201.7L215.3,201.1L215.9,201.2L216.5,200.1L217.1,200.4L217.6,200.1L218.2,199.8L218.8,200.7L219.4,199.5L220.0,199.2L220.5,198.6L221.1,199.3L221.7,197.0L222.3,197.6L222.9,198.1L223.4,198.1L224.0,196.8L224.6,196.3L225.2,196.3L225.8,195.4L226.3,195.4L226.9,194.3L227.5,194.7L228.1,193.8L228.7,192.7L229.2,191.3L229.8,193.1L230.4,192.4L231.0,192.2L231.6,190.7L232.1,191.4L232.7,190.6L233.3,189.8L233.9,189.9L234.5,189.4L235.0,188.6L235.6,189.2L236.2,188.3L236.8,187.1L237.4,186.3L237.9,186.0L238.5,186.5L239.1,185.2L239.7,183.8L240.3,183.5L240.8,183.4L241.4,183.3L242.0,181.9L242.6,182.1L243.2,181.9L243.7,181.2L244.3,179.2L244.9,179.4L245.5,178.3L246.1,178.8L246.6,177.3L247.2,177.8L247.8,176.9L248.4,174.7L249.0,175.2L249.5,175.5L250.1,174.7L250.7,173.9L251.3,172.7L251.9,173.3L252.4,173.5L253.0,172.0L253.6,171.3L254.2,170.6L254.8,169.3L255.3,169.4L255.9,168.5L256.5,169.2L257.1,167.3L257.7,166.0L258.2,166.3L258.8,166.1L259.4,165.6L260.0,164.0L260.6,165.1L261.1,164.1L261.7,163.1L262.3,162.4L262.9,162.6L263.5,161.6L264.0,161.4L264.6,160.6L265.2,160.3L265.8,160.4L266.4,159.1L266.9,158.0L267.5,158.7L268.1,157.7L268.7,156.6L269.3,157.1L269.8,155.8L270.4,156.1L271.0,154.2" stroke="#2020ff" stroke-width="1" stroke-dasharray="4.3 2.2"/>
<path d="M22.5,204.5L22.7,198.9L22.9,194.5L23.1,190.6L23.3,187.0L23.5,184.9L23.6,181.9L23.8,180.1L24.0,178.1L24.2,176.9L24.4,175.8L24.6,174.4L24.8,173.4L25.0,172.7L25.2,171.9L25.4,171.5L25.5,171.3L25.7,170.0L25.9,169.6L26.1,169.3L26.3,169.0L26.5,168.4L26.7,168.5L26.9,168.2L27.1,167.8L27.3,167.2L27.5,167.6L27.6,166.7L27.8,167.0L28.0,166.9L28.6,165.7L29.2,165.4L29.8,165.1L30.3,164.3L30.9,163.5L31.5,162.9L32.1,162.8L32.7,162.0L33.2,161.4L33.8,161.2L34.4,160.5L35.0,160.0L35.6,159.7L36.1,159.1L36.7,158.5L37.3,158.0L37.9,157.6L38.5,157.1L39.0,156.2L39.6,156.0L40.2,155.3L40.8,154.8L41.4,154.4L41.9,153.5L42.5,153.8L43.1,152.9L43.7,152.8L44.3,151.8L44.8,151.4L45.4,151.8L46.0,151.1L46.6,150.3L47.2,149.8L47.7,149.4L48.3,149.2L48.9,148.6L49.5,148.1L50.1,147.9L50.6,147.2L51.2,147.6L51.8,146.5L52.4,146.6L53.0,145.7L53.5,145.6L54.1,145.4L54.7,144.7L55.3,144.7L55.9,144.3L56.4,144.2L57.0,143.5L57.6,143.0L58.2,142.6L58.8,142.5L59.3,141.9L59.9,141.9L60.5,141.6L61.1,141.2L61.7,140.8L62.2,140.8L62.8,140.5L63.4,140.3L64.0,140.0L64.6,139.9L65.1,139.3L65.7,139.4L66.3,138.9L66.9,139.0L67.5,138.6L68.0,138.3L68.6,138.4L69.2,137.6L69.8,137.8L70.4,137.3L70.9,137.4L71.5,137.6L72.1,137.4L72.7,137.1L73.3,137.0L73.8,136.9L74.4,136.9L75.0,137.2L75.6,136.7L76.2,137.1L76.7,136.4L77.3,136.6L77.9,136.5L78.5,136.4L79.1,136.2L79.6,136.6L80.2,136.7L80.8,136.5L81.4,136.7L82.0,136.5L82.5,135.9L83.1,136.5L83.7,136.1L84.3,136.7L84.9,136.3L85.4,136.5L86.0,136.5L86.6,136.4L87.2,136.2L87.8,136.7L88.3,136.8L88.9,137.2L89.5,136.9L90.1,137.2L90.7,137.1L91.2,137.5L91.8,137.2L92.4,138.2L93.0,138.0L93.6,137.9L94.1,138.4L94.7,138.6L95.3,138.7L95.9,139.2L96.5,139.0L97.0,138.7L97.6,139.2L98.2,140.0L98.8,140.2L99.3,140.3L99.9,140.3L100.5,141.0L101.1,141.2L101.7,141.1L102.2,141.4L102.8,142.0L103.4,142.5L104.0,142.9L104.6,143.0L105.1,143.7L105.7,143.3L106.3,144.0L106.9,144.0L107.5,144.1L108.0,144.6L108.6,145.5L109.2,145.4L109.8,145.7L110.4,146.5L110.9,147.0L111.5,147.2L112.1,147.9L112.7,147.6L113.3,148.9L113.8,149.0L114.4,149.2L115.0,149.7L115.6,150.0L116.2,150.4L116.7,151.0L117.3,151.1L117.9,152.3L118.5,152.3L119.1,152.9L119.6,153.2L120.2,153.6L120.8,154.3L121.4,154.8L122.0,154.9L122.5,155.5L123.1,156.2L123.7,156.1L124.3,156.5L124.9,157.9L125.4,158.0L126.0,158.0L126.6,158.9L127.2,159.5L127.8,160.1L128.3,160.7L128.9,161.2L129.5,161.8L130.1,162.0L130.7,162.8L131.2,163.3L131.8,164.0L132.4,164.3L133.0,165.0L133.6,165.4L134.1,165.6L134.7,166.3L135.3,166.8L135.9,167.4L136.5,168.0L137.0,168.6L137.6,169.2L138.2,169.5L138.8,170.5L139.4,170.4L139.9,171.3L140.5,172.0L141.1,172.5L141.7,173.1L142.3,173.4L142.8,174.2L143.4,174.2L144.0,175.2L144.6,176.1L145.2,176.3L145.7,177.1L146.3,177.2L146.9,177.5L147.5,178.1L148.1,179.1L148.6,179.5L149.2,179.4L149.8,180.3L150.4,180.9L151.0,181.1L151.5,181.3L152.1,182.1L152.7,182.9L153.3,183.3L153.9,183.8L154.4,184.6L155.0,185.2L155.6,185.4L156.2,186.1L156.8,186.4L157.3,186.8L157.9,186.8L158.5,188.0L159.1,188.3L159.7,188.8L160.2,189.1L160.8,189.4L161.4,190.2L162.0,190.7L162.6,191.3L163.1,191.6L163.7,191.7L164.3,192.2L164.9,192.9L165.5,193.2L166.0,193.5L166.6,193.8L167.2,194.4L167.8,194.7L168.4,195.5L168.9,195.7L169.5,195.4L170.1,196.7L170.7,196.6L171.3,196.8L171.8,197.3L172.4,197.7L173.0,197.9L173.6,198.2L174.2,198.5L174.7,199.3L175.3,199.2L175.9,199.6L176.5,199.9L177.1,200.0L177.6,200.1L178.2,200.3L178.8,200.9L179.4,200.9L180.0,201.0L180.5,201.3L181.1,201.5L181.7,202.0L182.3,202.3L182.9,202.2L183.4,203.0L184.0,202.8L184.6,203.1L185.2,203.3L185.8,203.8L186.3,203.7L186.9,203.7L187.5,203.6L188.1,203.7L188.7,204.1L189.2,204.2L189.8,204.5L190.4,204.3L191.0,204.6L191.6,204.4L192.1,204.2L192.7,204.7L193.3,205.1L193.9,205.0L194.5,205.2L195.0,205.2L195.6,204.6L196.2,204.9L196.8,205.3L197.4,204.8L197.9,204.6L198.5,205.0L199.1,205.1L199.7,205.0L200.3,204.8L200.8,204.6L201.4,204.4L202.0,204.4L202.6,204.3L203.2,204.2L203.7,204.2L204.3,204.7L204.9,204.2L205.5,204.0L206.1,204.0L206.6,203.6L207.2,203.8L207.8,203.7L208.4,203.0L209.0,203.0L209.5,203.0L210.1,202.6L210.7,202.4L211.3,202.4L211.9,202.8L212.4,202.2L213.0,201.9L213.6,201.8L214.2,201.3L214.7,200.8L215.3,200.9L215.9,200.8L216.5,199.8L217.1,200.1L217.6,200.0L218.2,199.4L218.8,199.0L219.4,199.0L220.0,198.3L220.5,198.3L221.1,198.1L221.7,197.5L222.3,197.0L222.9,197.0L223.4,196.4L224.0,196.2L224.6,195.1L225.2,195.6L225.8,194.7L226.3,194.7L226.9,194.3L227.5,193.7L228.1,193.3L228.7,192.8L229.2,192.6L229.8,192.4L230.4,191.9L231.0,191.3L231.6,190.8L232.1,190.2L232.7,190.0L233.3,189.4L233.9,188.8L234.5,188.7L235.0,188.6L235.6,188.1L236.2,187.7L236.8,186.5L237.4,186.6L237.9,185.6L238.5,185.3L239.1,184.5L239.7,184.2L240.3,183.9L240.8,183.5L241.4,182.9L242.0,182.4L242.6,182.0L243.2,181.4L243.7,180.5L244.3,180.8L244.9,179.8L245.5,179.5L246.1,178.7L246.6,178.0L247.2,177.7L247.8,177.0L248.4,177.0L249.0,175.9L249.5,175.7L250.1,174.9L250.7,174.5L251.3,174.6L251.9,173.6L252.4,172.8L253.0,172.0L253.6,171.8L254.2,171.2L254.8,171.1L255.3,169.9L255.9,169.2L256.5,169.1L257.1,168.6L257.7,168.4L258.2,167.3L258.8,166.3L259.4,166.3L260.0,165.6L260.6,165.2L261.1,165.1L261.7,164.0L262.3,164.0L262.9,163.3L263.5,162.6L264.0,162.0L264.6,161.5L265.2,161.0L265.8,160.8L266.4,160.4L266.9,159.6L267.5,159.2L268.1,158.9L268.7,158.4L269.3,157.7L269.8,157.5L270.4,156.9L271.0,156.5" stroke="#42a642" stroke-width="1.3" stroke-dasharray="4.3 2.2"/>
<path d="M22.5,202.9L22.7,204.3L22.9,203.1L23.1,201.3L23.3,201.3L23.5,200.6L23.6,198.6L23.8,199.1L24.0,199.0L24.2,198.4L24.4,196.6L24.6,195.9L24.8,196.3L25.0,195.4L25.2,193.8L25.4,193.1L25.5,193.3L25.7,191.8L25.9,191.2L26.1,192.1L26.3,190.6L26.5,189.5L26.7,189.5L26.9,189.9L27.1,188.2L27.3,186.9L27.5,185.9L27.6,187.7L27.8,184.1L28.0,185.9L28.6,183.0L29.2,181.2L29.8,179.9L30.3,178.9L30.9,178.3L31.5,175.8L32.1,175.4L32.7,175.2L33.2,170.6L33.8,170.7L34.4,168.8L35.0,169.4L35.6,166.8L36.1,165.7L36.7,164.7L37.3,164.7L37.9,164.4L38.5,162.8L39.0,163.2L39.6,162.0L40.2,159.9L40.8,159.8L41.4,158.4L41.9,157.6L42.5,155.5L43.1,155.1L43.7,155.2L44.3,153.7L44.8,154.2L45.4,153.2L46.0,151.8L46.6,152.5L47.2,151.2L47.7,151.2L48.3,149.7L48.9,148.1L49.5,149.1L50.1,147.8L50.6,148.0L51.2,147.6L51.8,147.1L52.4,144.9L53.0,143.8L53.5,144.5L54.1,144.8L54.7,143.4L55.3,143.6L55.9,142.4L56.4,142.3L57.0,141.9L57.6,141.3L58.2,141.6L58.8,141.1L59.3,141.6L59.9,140.4L60.5,140.6L61.1,139.5L61.7,139.6L62.2,138.6L62.8,138.1L63.4,139.0L64.0,138.3L64.6,138.1L65.1,136.7L65.7,135.8L66.3,136.1L66.9,136.6L67.5,135.2L68.0,136.9L68.6,134.8L69.2,135.9L69.8,137.1L70.4,133.4L70.9,133.9L71.5,135.4L72.1,134.5L72.7,134.6L73.3,134.3L73.8,135.2L74.4,134.5L75.0,133.7L75.6,133.7L76.2,133.0L76.7,133.7L77.3,132.1L77.9,134.0L78.5,133.4L79.1,134.7L79.6,134.2L80.2,132.6L80.8,134.0L81.4,133.1L82.0,133.5L82.5,134.1L83.1,133.7L83.7,133.8L84.3,133.8L84.9,133.1L85.4,133.2L86.0,134.1L86.6,134.4L87.2,133.7L87.8,134.1L88.3,133.5L88.9,132.5L89.5,133.8L90.1,134.5L90.7,134.7L91.2,135.3L91.8,135.5L92.4,135.8L93.0,135.6L93.6,135.8L94.1,135.2L94.7,136.2L95.3,136.3L95.9,137.1L96.5,135.5L97.0,136.5L97.6,135.9L98.2,136.8L98.8,136.7L99.3,138.0L99.9,137.7L100.5,136.7L101.1,139.5L101.7,138.3L102.2,138.3L102.8,139.4L103.4,139.5L104.0,139.6L104.6,141.1L105.1,140.8L105.7,142.0L106.3,142.2L106.9,142.6L107.5,142.6L108.0,142.8L108.6,143.0L109.2,144.7L109.8,142.9L110.4,143.8L110.9,144.5L111.5,145.6L112.1,145.9L112.7,145.9L113.3,146.5L113.8,148.3L114.4,147.2L115.0,146.2L115.6,149.8L116.2,148.4L116.7,149.3L117.3,150.1L117.9,149.6L118.5,151.8L119.1,151.4L119.6,151.0L120.2,152.6L120.8,153.3L121.4,153.5L122.0,154.3L122.5,153.6L123.1,155.7L123.7,155.1L124.3,157.0L124.9,156.3L125.4,157.3L126.0,159.5L126.6,158.4L127.2,159.6L127.8,159.8L128.3,159.0L128.9,161.3L129.5,161.8L130.1,160.8L130.7,162.2L131.2,161.8L131.8,163.2L132.4,164.6L133.0,164.6L133.6,164.3L134.1,165.1L134.7,166.3L135.3,166.8L135.9,167.5L136.5,168.4L137.0,167.4L137.6,169.2L138.2,170.5L138.8,170.7L139.4,170.5L139.9,171.1L140.5,172.2L141.1,173.1L141.7,173.3L142.3,174.9L142.8,175.3L143.4,174.5L144.0,175.9L144.6,175.9L145.2,175.9L145.7,176.9L146.3,177.9L146.9,177.0L147.5,178.6L148.1,179.8L148.6,179.7L149.2,180.4L149.8,181.8L150.4,181.8L151.0,182.5L151.5,184.2L152.1,183.6L152.7,184.2L153.3,184.8L153.9,186.1L154.4,185.8L155.0,186.1L155.6,186.6L156.2,187.9L156.8,187.3L157.3,189.0L157.9,188.8L158.5,188.3L159.1,190.1L159.7,190.5L160.2,190.0L160.8,191.4L161.4,191.8L162.0,192.0L162.6,191.9L163.1,194.5L163.7,194.0L164.3,194.6L164.9,195.1L165.5,195.4L166.0,195.8L166.6,195.5L167.2,196.7L167.8,196.4L168.4,196.7L168.9,197.8L169.5,197.6L170.1,197.0L170.7,198.3L171.3,199.3L171.8,199.2L172.4,200.2L173.0,199.7L173.6,199.7L174.2,201.1L174.7,201.1L175.3,200.5L175.9,201.9L176.5,201.7L177.1,202.8L177.6,203.0L178.2,203.1L178.8,201.6L179.4,203.5L180.0,203.9L180.5,204.1L181.1,204.1L181.7,203.8L182.3,204.3L182.9,203.4L183.4,204.8L184.0,204.2L184.6,205.1L185.2,205.1L185.8,206.5L186.3,205.9L186.9,206.0L187.5,206.2L188.1,207.6L188.7,205.8L189.2,206.7L189.8,206.9L190.4,206.8L191.0,206.9L191.6,206.6L192.1,207.7L192.7,207.6L193.3,206.9L193.9,207.0L194.5,207.4L195.0,207.5L195.6,207.7L196.2,207.2L196.8,206.4L197.4,207.9L197.9,206.2L198.5,206.6L199.1,207.4L199.7,206.6L200.3,207.9L200.8,208.0L201.4,207.7L202.0,207.0L202.6,206.9L203.2,206.9L203.7,206.4L204.3,207.7L204.9,205.9L205.5,207.0L206.1,206.4L206.6,206.1L207.2,206.4L207.8,206.3L208.4,205.9L209.0,205.1L209.5,204.5L210.1,204.3L210.7,205.1L211.3,204.8L211.9,204.6L212.4,203.5L213.0,204.8L213.6,202.5L214.2,203.3L214.7,203.3L215.3,202.3L215.9,201.5L216.5,201.7L217.1,200.9L217.6,201.2L218.2,200.2L218.8,199.8L219.4,200.4L220.0,199.0L220.5,199.5L221.1,199.2L221.7,199.5L222.3,198.7L222.9,197.6L223.4,198.6L224.0,196.9L224.6,196.7L225.2,196.4L225.8,197.5L226.3,195.8L226.9,194.9L227.5,195.3L228.1,194.4L228.7,195.5L229.2,193.1L229.8,193.5L230.4,192.1L231.0,193.3L231.6,191.2L232.1,191.4L232.7,190.2L233.3,190.8L233.9,190.1L234.5,187.8L235.0,189.3L235.6,188.7L236.2,187.9L236.8,187.9L237.4,185.9L237.9,185.1L238.5,186.1L239.1,186.2L239.7,183.8L240.3,183.3L240.8,183.0L241.4,182.2L242.0,183.0L242.6,182.0L243.2,182.2L243.7,181.6L244.3,179.6L244.9,180.1L245.5,177.6L246.1,178.4L246.6,178.3L247.2,176.8L247.8,175.6L248.4,175.9L249.0,176.4L249.5,174.8L250.1,173.6L250.7,174.2L251.3,173.8L251.9,172.1L252.4,172.1L253.0,172.3L253.6,171.2L254.2,170.9L254.8,169.6L255.3,169.2L255.9,167.9L256.5,167.6L257.1,168.5L257.7,166.7L258.2,165.8L258.8,165.5L259.4,164.5L260.0,165.0L260.6,164.7L261.1,162.9L261.7,163.6L262.3,163.7L262.9,161.1L263.5,161.7L264.0,160.8L264.6,161.0L265.2,160.4L265.8,159.7L266.4,158.6L266.9,157.6L267.5,158.8L268.1,156.3L268.7,157.0L269.3,156.4L269.8,154.7L270.4,154.7L271.0,155.1" stroke="#3646aa" stroke-width="1.2"/>
<path d="M22.5,203.8L22.7,198.6L22.9,194.2L23.1,190.0L23.3,186.9L23.5,183.5L23.6,180.5L23.8,179.3L24.0,177.5L24.2,175.5L24.4,174.2L24.6,173.2L24.8,172.7L25.0,171.4L25.2,170.3L25.4,170.6L25.5,169.6L25.7,169.8L25.9,169.0L26.1,168.8L26.3,167.7L26.5,167.8L26.7,166.7L26.9,166.5L27.1,166.4L27.3,167.2L27.5,166.0L27.6,165.5L27.8,165.2L28.0,165.7L28.6,164.6L29.2,164.2L29.8,163.5L30.3,162.0L30.9,162.3L31.5,161.3L32.1,160.3L32.7,160.4L33.2,159.6L33.8,158.9L34.4,158.4L35.0,158.5L35.6,157.3L36.1,156.1L36.7,156.9L37.3,155.2L37.9,155.0L38.5,154.9L39.0,153.1L39.6,153.2L40.2,153.6L40.8,152.5L41.4,151.7L41.9,151.6L42.5,150.7L43.1,150.6L43.7,149.8L44.3,149.0L44.8,149.5L45.4,148.7L46.0,148.6L46.6,147.9L47.2,148.1L47.7,147.5L48.3,146.9L48.9,146.0L49.5,145.5L50.1,146.3L50.6,145.7L51.2,144.7L51.8,145.6L52.4,144.6L53.0,144.1L53.5,143.1L54.1,143.1L54.7,143.3L55.3,143.0L55.9,142.7L56.4,141.6L57.0,142.2L57.6,141.9L58.2,141.3L58.8,141.3L59.3,141.1L59.9,141.2L60.5,140.5L61.1,140.4L61.7,139.4L62.2,139.4L62.8,139.5L63.4,139.0L64.0,139.3L64.6,138.4L65.1,138.7L65.7,138.2L66.3,138.9L66.9,138.0L67.5,138.8L68.0,138.7L68.6,137.8L69.2,137.9L69.8,137.2L70.4,136.1L70.9,137.4L71.5,137.2L72.1,136.7L72.7,136.4L73.3,136.6L73.8,136.5L74.4,136.0L75.0,136.0L75.6,136.7L76.2,136.2L76.7,136.1L77.3,136.5L77.9,135.9L78.5,136.4L79.1,135.5L79.6,135.8L80.2,135.9L80.8,136.2L81.4,136.0L82.0,136.9L82.5,136.5L83.1,135.8L83.7,137.0L84.3,135.7L84.9,137.0L85.4,135.8L86.0,136.7L86.6,136.0L87.2,136.4L87.8,137.3L88.3,136.1L88.9,136.1L89.5,137.0L90.1,137.2L90.7,137.3L91.2,137.8L91.8,137.0L92.4,137.9L93.0,137.9L93.6,138.4L94.1,138.5L94.7,139.0L95.3,138.0L95.9,138.9L96.5,138.6L97.0,139.3L97.6,139.9L98.2,139.9L98.8,140.3L99.3,140.3L99.9,140.7L100.5,141.0L101.1,141.8L101.7,141.8L102.2,140.9L102.8,142.3L103.4,142.8L104.0,142.5L104.6,142.3L105.1,144.0L105.7,143.7L106.3,144.3L106.9,145.2L107.5,144.4L108.0,145.1L108.6,145.4L109.2,146.2L109.8,146.0L110.4,146.8L110.9,147.0L111.5,147.9L112.1,148.4L112.7,147.6L113.3,148.9L113.8,148.9L114.4,149.5L115.0,150.1L115.6,150.6L116.2,150.5L116.7,151.4L117.3,151.8L117.9,152.1L118.5,152.0L119.1,152.7L119.6,153.4L120.2,154.3L120.8,155.2L121.4,154.5L122.0,155.0L122.5,156.0L123.1,156.2L123.7,156.6L124.3,157.0L124.9,157.5L125.4,158.7L126.0,158.2L126.6,160.1L127.2,159.6L127.8,160.3L128.3,160.6L128.9,160.7L129.5,161.4L130.1,163.1L130.7,163.9L131.2,163.3L131.8,164.7L132.4,164.7L133.0,164.9L133.6,166.6L134.1,167.3L134.7,166.7L135.3,167.4L135.9,168.1L136.5,168.5L137.0,169.4L137.6,170.3L138.2,170.2L138.8,171.1L139.4,172.0L139.9,171.5L140.5,172.3L141.1,172.6L141.7,173.8L142.3,174.2L142.8,174.9L143.4,175.4L144.0,175.4L144.6,176.4L145.2,176.4L145.7,176.9L146.3,176.7L146.9,178.8L147.5,178.3L148.1,179.2L148.6,179.7L149.2,180.9L149.8,181.0L150.4,180.9L151.0,181.8L151.5,182.3L152.1,182.9L152.7,182.8L153.3,183.8L153.9,185.4L154.4,185.1L155.0,186.2L155.6,187.3L156.2,186.5L156.8,186.1L157.3,187.2L157.9,188.2L158.5,188.6L159.1,188.0L159.7,189.0L160.2,189.5L160.8,190.0L161.4,190.4L162.0,190.4L162.6,191.0L163.1,191.6L163.7,192.6L164.3,192.3L164.9,193.2L165.5,192.8L166.0,194.3L166.6,194.2L167.2,194.5L167.8,195.5L168.4,194.4L168.9,194.9L169.5,196.2L170.1,196.0L170.7,196.5L171.3,198.3L171.8,197.3L172.4,197.7L173.0,198.0L173.6,198.9L174.2,198.8L174.7,199.0L175.3,198.7L175.9,199.4L176.5,199.8L177.1,199.4L177.6,200.6L178.2,200.8L178.8,201.7L179.4,200.4L180.0,200.9L180.5,201.1L181.1,201.5L181.7,201.9L182.3,202.1L182.9,202.5L183.4,202.7L184.0,202.7L184.6,202.2L185.2,202.8L185.8,203.3L186.3,203.7L186.9,203.9L187.5,202.9L188.1,203.6L188.7,203.9L189.2,204.2L189.8,204.7L190.4,204.2L191.0,203.9L191.6,204.6L192.1,204.5L192.7,204.6L193.3,204.5L193.9,205.3L194.5,204.7L195.0,205.0L195.6,204.2L196.2,205.0L196.8,204.4L197.4,203.9L197.9,204.8L198.5,204.9L199.1,204.4L199.7,204.5L200.3,204.9L200.8,204.2L201.4,203.3L202.0,204.3L202.6,204.2L203.2,204.5L203.7,203.8L204.3,204.4L204.9,204.2L205.5,203.0L206.1,203.9L206.6,202.8L207.2,202.4L207.8,202.8L208.4,202.5L209.0,201.7L209.5,202.5L210.1,202.5L210.7,202.7L211.3,201.8L211.9,200.9L212.4,200.9L213.0,201.6L213.6,201.3L214.2,200.9L214.7,200.3L215.3,200.2L215.9,199.8L216.5,199.4L217.1,199.4L217.6,199.0L218.2,198.6L218.8,198.4L219.4,197.8L220.0,196.9L220.5,197.1L221.1,197.1L221.7,197.6L222.3,196.2L222.9,197.0L223.4,196.4L224.0,194.9L224.6,194.6L225.2,194.6L225.8,195.0L226.3,194.0L226.9,193.7L227.5,192.7L228.1,191.5L228.7,192.1L229.2,192.1L229.8,191.9L230.4,190.9L231.0,190.5L231.6,190.6L232.1,189.5L232.7,189.7L233.3,188.1L233.9,187.7L234.5,187.2L235.0,187.5L235.6,186.5L236.2,186.4L236.8,186.0L237.4,185.5L237.9,185.5L238.5,185.1L239.1,183.5L239.7,183.5L240.3,182.8L240.8,181.9L241.4,182.7L242.0,181.7L242.6,180.8L243.2,180.1L243.7,180.0L244.3,178.8L244.9,178.7L245.5,178.8L246.1,178.2L246.6,176.8L247.2,176.4L247.8,177.0L248.4,174.9L249.0,174.8L249.5,173.9L250.1,174.2L250.7,173.6L251.3,173.4L251.9,171.1L252.4,171.9L253.0,170.5L253.6,171.0L254.2,170.1L254.8,170.4L255.3,169.3L255.9,168.1L256.5,168.6L257.1,167.0L257.7,166.8L258.2,166.9L258.8,166.1L259.4,165.6L260.0,164.8L260.6,164.5L261.1,164.1L261.7,163.4L262.3,163.2L262.9,162.8L263.5,161.6L264.0,160.7L264.6,161.3L265.2,160.1L265.8,159.9L266.4,159.5L266.9,158.1L267.5,158.3L268.1,156.8L268.7,157.4L269.3,156.3L269.8,156.1L270.4,155.9L271.0,154.8" stroke="#ff30ff" stroke-width="1.2"/>
</g>
<g font-family="Liberation Sans, Arial, sans-serif" font-size="6.5" fill="#262626" text-anchor="middle">
<text x="22.50" y="229.50">0</text>
<text x="50.11" y="229.50">5</text>
<text x="77.72" y="229.50">10</text>
<text x="105.33" y="229.50">15</text>
<text x="132.94" y="229.50">20</text>
<text x="160.56" y="229.50">25</text>
<text x="188.17" y="229.50">30</text>
<text x="215.78" y="229.50">35</text>
<text x="243.39" y="229.50">40</text>
<text x="271.00" y="229.50">45</text>
</g><g font-family="Liberation Sans, Arial, sans-serif" font-size="6.5" fill="#262626" text-anchor="end">
<text x="19.90" y="222.70">-1</text>
<text x="19.90" y="206.77">0</text>
<text x="19.90" y="190.83">1</text>
<text x="19.90" y="174.90">2</text>
<text x="19.90" y="158.97">3</text>
<text x="19.90" y="143.03">4</text>
<text x="19.90" y="127.10">5</text>
</g>
<text x="150.20" y="236.20" text-anchor="middle" font-size="7.5" fill="#262626" font-family="Liberation Sans, Arial, sans-serif">Time(s)</text>
<text transform="translate(10.40,170.80) rotate(-90)" text-anchor="middle" font-size="7.55" fill="#262626" font-family="Liberation Sans, Arial, sans-serif">Z displacement (m)</text>
</g>
<rect x="355.50" y="148.50" width="110.30" height="57.80" fill="#fff" stroke="#8a8a8a" stroke-width="0.9"/>
<g font-family="Liberation Sans, Arial, sans-serif" font-size="5.7" fill="#262626">
<path d="M362,155.50H397.3" stroke="#ff2020" stroke-width="0.95" fill="none"/>
<text x="401" y="157.50">Reference</text>
<path d="M362,166.40H397.3" stroke="#2020ff" stroke-width="1" stroke-dasharray="4.3 2.2" fill="none"/>
<text x="401" y="168.40">RMHC-PD</text>
<path d="M362,177.80H397.3" stroke="#42a642" stroke-width="1.3" stroke-dasharray="4.3 2.2" fill="none"/>
<text x="401" y="179.80">GAHC-PD</text>
<path d="M362,189.10H397.3" stroke="#3646aa" stroke-width="1.2" fill="none"/>
<text x="401" y="191.10">RMHC-PID</text>
<path d="M362,200.20H397.3" stroke="#ff30ff" stroke-width="1.2" fill="none"/>
<text x="401" y="202.20">GAHC-PID</text>
</g>
</svg></body></html>
